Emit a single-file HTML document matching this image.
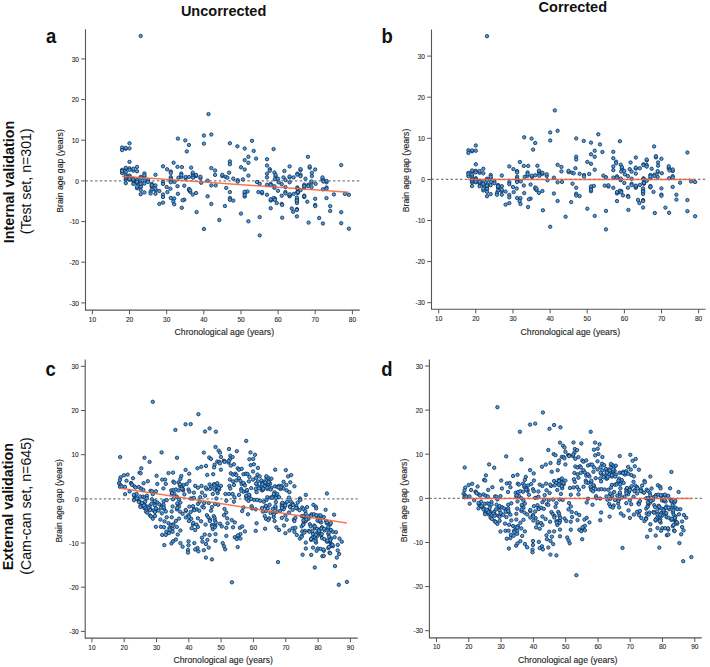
<!DOCTYPE html>
<html><head><meta charset="utf-8"><style>
html,body{margin:0;padding:0;background:#fff;}
svg{display:block;}
text{font-family:"Liberation Sans", sans-serif;fill:#2a2a2a;}
.ttl{font-size:14.5px;font-weight:bold;fill:#111;}
.lt{font-size:20.5px;font-weight:bold;fill:#111;}
.row{font-size:14.3px;font-weight:bold;fill:#111;}
.rowr{font-size:14.2px;fill:#111;}
.lab{font-size:8.7px;fill:#1e1e1e;stroke:#1e1e1e;stroke-width:0.12px;}
.tk{font-size:7.4px;fill:#2a2a2a;stroke:#2a2a2a;stroke-width:0.12px;}
</style></head><body>
<svg width="710" height="667" viewBox="0 0 710 667">
<text x="223.6" y="15.8" text-anchor="middle" class="ttl">Uncorrected</text>
<text x="572.8" y="12.2" text-anchor="middle" class="ttl">Corrected</text>
<text transform="translate(46.1,42.8) scale(0.9,1)" class="lt">a</text>
<text transform="translate(381.6,43) scale(0.9,1)" class="lt">b</text>
<text transform="translate(45.5,375.9) scale(0.9,1)" class="lt">c</text>
<text transform="translate(381.2,376) scale(0.9,1)" class="lt">d</text>
<text transform="translate(13.9,182) rotate(-90)" text-anchor="middle" class="row">Internal validation</text>
<text transform="translate(31.1,181.3) rotate(-90)" text-anchor="middle" class="rowr">(Test set, n=301)</text>
<text transform="translate(12.9,506.6) rotate(-90)" text-anchor="middle" class="row">External validation</text>
<text transform="translate(30.5,506) rotate(-90)" text-anchor="middle" class="rowr">(Cam-can set, n=645)</text>
<text transform="translate(62.5,171) rotate(-90)" text-anchor="middle" class="lab">Brain age gap (years)</text>
<text transform="translate(408.9,170.5) rotate(-90)" text-anchor="middle" class="lab">Brain age gap (years)</text>
<text transform="translate(62.1,500.8) rotate(-90)" text-anchor="middle" class="lab">Brain age gap (years)</text>
<text transform="translate(407.1,500.5) rotate(-90)" text-anchor="middle" class="lab">Brain age gap (years)</text>
<text x="224.3" y="335.4" text-anchor="middle" class="lab">Chronological age (years)</text>
<text x="570.3" y="335.4" text-anchor="middle" class="lab">Chronological age (years)</text>
<text x="223.2" y="663.3" text-anchor="middle" class="lab">Chronological age (years)</text>
<text x="567.7" y="663.1" text-anchor="middle" class="lab">Chronological age (years)</text>
<line x1="85.5" y1="180.9" x2="359.7" y2="180.9" stroke="#7a7a7a" stroke-width="1.3" stroke-dasharray="2.45,2.31"/>
<path d="M85.5 29.2V310.1H359.7" fill="none" stroke="#555" stroke-width="1.1"/>
<path d="M81.2 302.9H85.5M81.2 262.2H85.5M81.2 221.6H85.5M81.2 180.9H85.5M81.2 140.2H85.5M81.2 99.6H85.5M81.2 58.9H85.5M92.4 310.1V314.3M129.5 310.1V314.3M166.7 310.1V314.3M203.8 310.1V314.3M241 310.1V314.3M278.1 310.1V314.3M315.2 310.1V314.3M352.4 310.1V314.3" fill="none" stroke="#555" stroke-width="1"/>
<text transform="translate(79,305.6) scale(0.88,1)" text-anchor="end" class="tk">-30</text>
<text transform="translate(79,264.9) scale(0.88,1)" text-anchor="end" class="tk">-20</text>
<text transform="translate(79,224.3) scale(0.88,1)" text-anchor="end" class="tk">-10</text>
<text transform="translate(79,183.6) scale(0.88,1)" text-anchor="end" class="tk">0</text>
<text transform="translate(79,142.9) scale(0.88,1)" text-anchor="end" class="tk">10</text>
<text transform="translate(79,102.3) scale(0.88,1)" text-anchor="end" class="tk">20</text>
<text transform="translate(79,61.6) scale(0.88,1)" text-anchor="end" class="tk">30</text>
<text transform="translate(92.4,321.6) scale(0.88,1)" text-anchor="middle" class="tk">10</text>
<text transform="translate(129.5,321.6) scale(0.88,1)" text-anchor="middle" class="tk">20</text>
<text transform="translate(166.7,321.6) scale(0.88,1)" text-anchor="middle" class="tk">30</text>
<text transform="translate(203.8,321.6) scale(0.88,1)" text-anchor="middle" class="tk">40</text>
<text transform="translate(241,321.6) scale(0.88,1)" text-anchor="middle" class="tk">50</text>
<text transform="translate(278.1,321.6) scale(0.88,1)" text-anchor="middle" class="tk">60</text>
<text transform="translate(315.2,321.6) scale(0.88,1)" text-anchor="middle" class="tk">70</text>
<text transform="translate(352.4,321.6) scale(0.88,1)" text-anchor="middle" class="tk">80</text>
<line x1="431.5" y1="179.4" x2="705.6" y2="179.4" stroke="#7a7a7a" stroke-width="1.3" stroke-dasharray="2.45,2.31"/>
<path d="M431.5 29.6V309.2H705.6" fill="none" stroke="#555" stroke-width="1.1"/>
<path d="M427.2 302.7H431.5M427.2 261.6H431.5M427.2 220.5H431.5M427.2 179.4H431.5M427.2 138.3H431.5M427.2 97.2H431.5M427.2 56.1H431.5M438.7 309.2V313.4M475.8 309.2V313.4M513 309.2V313.4M550.1 309.2V313.4M587.2 309.2V313.4M624.4 309.2V313.4M661.5 309.2V313.4M698.6 309.2V313.4" fill="none" stroke="#555" stroke-width="1"/>
<text transform="translate(425,305.4) scale(0.88,1)" text-anchor="end" class="tk">-30</text>
<text transform="translate(425,264.3) scale(0.88,1)" text-anchor="end" class="tk">-20</text>
<text transform="translate(425,223.2) scale(0.88,1)" text-anchor="end" class="tk">-10</text>
<text transform="translate(425,182.1) scale(0.88,1)" text-anchor="end" class="tk">0</text>
<text transform="translate(425,141) scale(0.88,1)" text-anchor="end" class="tk">10</text>
<text transform="translate(425,99.9) scale(0.88,1)" text-anchor="end" class="tk">20</text>
<text transform="translate(425,58.8) scale(0.88,1)" text-anchor="end" class="tk">30</text>
<text transform="translate(438.7,320.7) scale(0.88,1)" text-anchor="middle" class="tk">10</text>
<text transform="translate(475.8,320.7) scale(0.88,1)" text-anchor="middle" class="tk">20</text>
<text transform="translate(513,320.7) scale(0.88,1)" text-anchor="middle" class="tk">30</text>
<text transform="translate(550.1,320.7) scale(0.88,1)" text-anchor="middle" class="tk">40</text>
<text transform="translate(587.2,320.7) scale(0.88,1)" text-anchor="middle" class="tk">50</text>
<text transform="translate(624.4,320.7) scale(0.88,1)" text-anchor="middle" class="tk">60</text>
<text transform="translate(661.5,320.7) scale(0.88,1)" text-anchor="middle" class="tk">70</text>
<text transform="translate(698.6,320.7) scale(0.88,1)" text-anchor="middle" class="tk">80</text>
<line x1="85.2" y1="498.9" x2="357.7" y2="498.9" stroke="#7a7a7a" stroke-width="1.3" stroke-dasharray="2.4,2.26"/>
<path d="M85.2 359.4V638.1H357.7" fill="none" stroke="#555" stroke-width="1.1"/>
<path d="M80.9 631.4H85.2M80.9 587.2H85.2M80.9 543H85.2M80.9 498.9H85.2M80.9 454.7H85.2M80.9 410.5H85.2M80.9 366.3H85.2M91.9 638.1V642.3M124.2 638.1V642.3M156.5 638.1V642.3M188.8 638.1V642.3M221.1 638.1V642.3M253.4 638.1V642.3M285.8 638.1V642.3M318.1 638.1V642.3M350.4 638.1V642.3" fill="none" stroke="#555" stroke-width="1"/>
<text transform="translate(78.7,634.1) scale(0.88,1)" text-anchor="end" class="tk">-30</text>
<text transform="translate(78.7,589.9) scale(0.88,1)" text-anchor="end" class="tk">-20</text>
<text transform="translate(78.7,545.7) scale(0.88,1)" text-anchor="end" class="tk">-10</text>
<text transform="translate(78.7,501.6) scale(0.88,1)" text-anchor="end" class="tk">0</text>
<text transform="translate(78.7,457.4) scale(0.88,1)" text-anchor="end" class="tk">10</text>
<text transform="translate(78.7,413.2) scale(0.88,1)" text-anchor="end" class="tk">20</text>
<text transform="translate(78.7,369) scale(0.88,1)" text-anchor="end" class="tk">30</text>
<text transform="translate(91.9,649.6) scale(0.88,1)" text-anchor="middle" class="tk">10</text>
<text transform="translate(124.2,649.6) scale(0.88,1)" text-anchor="middle" class="tk">20</text>
<text transform="translate(156.5,649.6) scale(0.88,1)" text-anchor="middle" class="tk">30</text>
<text transform="translate(188.8,649.6) scale(0.88,1)" text-anchor="middle" class="tk">40</text>
<text transform="translate(221.1,649.6) scale(0.88,1)" text-anchor="middle" class="tk">50</text>
<text transform="translate(253.4,649.6) scale(0.88,1)" text-anchor="middle" class="tk">60</text>
<text transform="translate(285.8,649.6) scale(0.88,1)" text-anchor="middle" class="tk">70</text>
<text transform="translate(318.1,649.6) scale(0.88,1)" text-anchor="middle" class="tk">80</text>
<text transform="translate(350.4,649.6) scale(0.88,1)" text-anchor="middle" class="tk">90</text>
<line x1="429.4" y1="498.4" x2="701.8" y2="498.4" stroke="#7a7a7a" stroke-width="1.3" stroke-dasharray="2.4,2.26"/>
<path d="M429.4 359.4V637.9H701.8" fill="none" stroke="#555" stroke-width="1.1"/>
<path d="M425.1 630.7H429.4M425.1 586.6H429.4M425.1 542.5H429.4M425.1 498.4H429.4M425.1 454.2H429.4M425.1 410.1H429.4M425.1 366H429.4M436.5 637.9V642.1M468.8 637.9V642.1M501.1 637.9V642.1M533.4 637.9V642.1M565.7 637.9V642.1M598 637.9V642.1M630.2 637.9V642.1M662.5 637.9V642.1M694.8 637.9V642.1" fill="none" stroke="#555" stroke-width="1"/>
<text transform="translate(422.9,633.4) scale(0.88,1)" text-anchor="end" class="tk">-30</text>
<text transform="translate(422.9,589.3) scale(0.88,1)" text-anchor="end" class="tk">-20</text>
<text transform="translate(422.9,545.2) scale(0.88,1)" text-anchor="end" class="tk">-10</text>
<text transform="translate(422.9,501.1) scale(0.88,1)" text-anchor="end" class="tk">0</text>
<text transform="translate(422.9,456.9) scale(0.88,1)" text-anchor="end" class="tk">10</text>
<text transform="translate(422.9,412.8) scale(0.88,1)" text-anchor="end" class="tk">20</text>
<text transform="translate(422.9,368.7) scale(0.88,1)" text-anchor="end" class="tk">30</text>
<text transform="translate(436.5,649.4) scale(0.88,1)" text-anchor="middle" class="tk">10</text>
<text transform="translate(468.8,649.4) scale(0.88,1)" text-anchor="middle" class="tk">20</text>
<text transform="translate(501.1,649.4) scale(0.88,1)" text-anchor="middle" class="tk">30</text>
<text transform="translate(533.4,649.4) scale(0.88,1)" text-anchor="middle" class="tk">40</text>
<text transform="translate(565.7,649.4) scale(0.88,1)" text-anchor="middle" class="tk">50</text>
<text transform="translate(598,649.4) scale(0.88,1)" text-anchor="middle" class="tk">60</text>
<text transform="translate(630.2,649.4) scale(0.88,1)" text-anchor="middle" class="tk">70</text>
<text transform="translate(662.5,649.4) scale(0.88,1)" text-anchor="middle" class="tk">80</text>
<text transform="translate(694.8,649.4) scale(0.88,1)" text-anchor="middle" class="tk">90</text>
<g fill="#46a0ea" stroke="#10284a" stroke-width="0.8"><circle cx="208.5" cy="114.1" r="1.7"/><circle cx="203.9" cy="135.5" r="1.7"/><circle cx="211.3" cy="134.5" r="1.7"/><circle cx="177.9" cy="138.6" r="1.7"/><circle cx="185.3" cy="140.4" r="1.7"/><circle cx="188.9" cy="145" r="1.7"/><circle cx="203.9" cy="143.6" r="1.7"/><circle cx="186.8" cy="151.4" r="1.7"/><circle cx="229.9" cy="143.3" r="1.7"/><circle cx="129.5" cy="143.3" r="1.7"/><circle cx="122.1" cy="147.5" r="1.7"/><circle cx="122.1" cy="150.1" r="1.7"/><circle cx="125.8" cy="148.7" r="1.7"/><circle cx="129.5" cy="148.4" r="1.7"/><circle cx="129.5" cy="161.9" r="1.7"/><circle cx="173.6" cy="162.7" r="1.7"/><circle cx="229.9" cy="161.4" r="1.7"/><circle cx="252" cy="140.8" r="1.7"/><circle cx="237.4" cy="146.3" r="1.7"/><circle cx="244.7" cy="148.5" r="1.7"/><circle cx="253.7" cy="150.9" r="1.7"/><circle cx="273.6" cy="149.1" r="1.7"/><circle cx="248.4" cy="156.8" r="1.7"/><circle cx="256.1" cy="158.6" r="1.7"/><circle cx="244.7" cy="160.1" r="1.7"/><circle cx="248.4" cy="162.8" r="1.7"/><circle cx="267" cy="159.2" r="1.7"/><circle cx="307.9" cy="156.8" r="1.7"/><circle cx="229.9" cy="164.2" r="1.7"/><circle cx="167.1" cy="169.3" r="1.7"/><circle cx="170.8" cy="171.5" r="1.7"/><circle cx="166.7" cy="187" r="1.7"/><circle cx="170.8" cy="177.2" r="1.7"/><circle cx="170.8" cy="181.1" r="1.7"/><circle cx="170.4" cy="188.7" r="1.7"/><circle cx="167.4" cy="192.1" r="1.7"/><circle cx="159.3" cy="203.9" r="1.7"/><circle cx="163" cy="202.6" r="1.7"/><circle cx="174.5" cy="182" r="1.7"/><circle cx="177.5" cy="166.8" r="1.7"/><circle cx="181.9" cy="167.1" r="1.7"/><circle cx="178.4" cy="177.7" r="1.7"/><circle cx="181.3" cy="173.5" r="1.7"/><circle cx="181.3" cy="176.9" r="1.7"/><circle cx="177.5" cy="186.2" r="1.7"/><circle cx="184.3" cy="185.7" r="1.7"/><circle cx="177.9" cy="193.8" r="1.7"/><circle cx="170.8" cy="198" r="1.7"/><circle cx="174.2" cy="198.5" r="1.7"/><circle cx="173.3" cy="201.4" r="1.7"/><circle cx="174.2" cy="204.3" r="1.7"/><circle cx="184.3" cy="199.7" r="1.7"/><circle cx="182.6" cy="200.2" r="1.7"/><circle cx="185.6" cy="178.3" r="1.7"/><circle cx="189" cy="176.9" r="1.7"/><circle cx="191.1" cy="167.6" r="1.7"/><circle cx="192.7" cy="173.9" r="1.7"/><circle cx="193.1" cy="176.1" r="1.7"/><circle cx="196.1" cy="176.1" r="1.7"/><circle cx="200.4" cy="178.3" r="1.7"/><circle cx="201.2" cy="182.8" r="1.7"/><circle cx="189" cy="190.1" r="1.7"/><circle cx="190.2" cy="191.8" r="1.7"/><circle cx="192.7" cy="194.6" r="1.7"/><circle cx="196.1" cy="193" r="1.7"/><circle cx="181.8" cy="207.8" r="1.7"/><circle cx="196.6" cy="212.1" r="1.7"/><circle cx="207.6" cy="180.6" r="1.7"/><circle cx="207.6" cy="196.3" r="1.7"/><circle cx="211.3" cy="168.1" r="1.7"/><circle cx="215.1" cy="170.5" r="1.7"/><circle cx="215.1" cy="174.9" r="1.7"/><circle cx="211.3" cy="185.4" r="1.7"/><circle cx="215.7" cy="185.4" r="1.7"/><circle cx="211.3" cy="203.9" r="1.7"/><circle cx="222.3" cy="176.1" r="1.7"/><circle cx="225.7" cy="176.9" r="1.7"/><circle cx="227.4" cy="177.7" r="1.7"/><circle cx="229.1" cy="172.7" r="1.7"/><circle cx="233.3" cy="178.6" r="1.7"/><circle cx="226.2" cy="187.9" r="1.7"/><circle cx="229.9" cy="192.1" r="1.7"/><circle cx="229.9" cy="198" r="1.7"/><circle cx="233.3" cy="200.6" r="1.7"/><circle cx="224.9" cy="206" r="1.7"/><circle cx="219.3" cy="220" r="1.7"/><circle cx="203.9" cy="229" r="1.7"/><circle cx="137" cy="166.9" r="1.7"/><circle cx="122.1" cy="169.9" r="1.7"/><circle cx="122.1" cy="173" r="1.7"/><circle cx="125.8" cy="168.8" r="1.7"/><circle cx="125.8" cy="172" r="1.7"/><circle cx="125.8" cy="174.8" r="1.7"/><circle cx="129.5" cy="168.3" r="1.7"/><circle cx="133.3" cy="170.6" r="1.7"/><circle cx="137" cy="171.3" r="1.7"/><circle cx="129.5" cy="175.6" r="1.7"/><circle cx="125.8" cy="179.7" r="1.7"/><circle cx="125.8" cy="183.2" r="1.7"/><circle cx="129.5" cy="179.7" r="1.7"/><circle cx="133.3" cy="178.7" r="1.7"/><circle cx="133.3" cy="181.1" r="1.7"/><circle cx="133.3" cy="183.9" r="1.7"/><circle cx="137" cy="180.1" r="1.7"/><circle cx="137" cy="183.2" r="1.7"/><circle cx="137" cy="188.2" r="1.7"/><circle cx="140.7" cy="176.9" r="1.7"/><circle cx="140.7" cy="182.5" r="1.7"/><circle cx="140.7" cy="185" r="1.7"/><circle cx="140.7" cy="187.1" r="1.7"/><circle cx="140.7" cy="189.9" r="1.7"/><circle cx="140.7" cy="194.2" r="1.7"/><circle cx="144.4" cy="173.4" r="1.7"/><circle cx="144.4" cy="176.5" r="1.7"/><circle cx="144.4" cy="180.4" r="1.7"/><circle cx="144.4" cy="183.6" r="1.7"/><circle cx="144.4" cy="192.4" r="1.7"/><circle cx="148.1" cy="180.1" r="1.7"/><circle cx="155.5" cy="174.8" r="1.7"/><circle cx="151.8" cy="183.9" r="1.7"/><circle cx="151.8" cy="186.8" r="1.7"/><circle cx="155.5" cy="185.4" r="1.7"/><circle cx="151.8" cy="189.6" r="1.7"/><circle cx="150.6" cy="191.7" r="1.7"/><circle cx="155.5" cy="190.3" r="1.7"/><circle cx="155.5" cy="193.8" r="1.7"/><circle cx="159.3" cy="191" r="1.7"/><circle cx="163" cy="166.3" r="1.7"/><circle cx="163" cy="181.8" r="1.7"/><circle cx="163" cy="183.9" r="1.7"/><circle cx="163" cy="194.5" r="1.7"/><circle cx="163" cy="197" r="1.7"/><circle cx="241" cy="167.3" r="1.7"/><circle cx="244.7" cy="169.5" r="1.7"/><circle cx="248.4" cy="175.6" r="1.7"/><circle cx="237.7" cy="180.1" r="1.7"/><circle cx="242.9" cy="179.4" r="1.7"/><circle cx="267" cy="165.5" r="1.7"/><circle cx="269.8" cy="169.2" r="1.7"/><circle cx="267" cy="173.7" r="1.7"/><circle cx="267" cy="177.4" r="1.7"/><circle cx="274.4" cy="172.5" r="1.7"/><circle cx="275.6" cy="176.5" r="1.7"/><circle cx="274.9" cy="179.2" r="1.7"/><circle cx="278" cy="178.7" r="1.7"/><circle cx="278.6" cy="182.3" r="1.7"/><circle cx="281.7" cy="184.2" r="1.7"/><circle cx="284.4" cy="171" r="1.7"/><circle cx="283.5" cy="177.4" r="1.7"/><circle cx="285.4" cy="180.1" r="1.7"/><circle cx="289.6" cy="166.4" r="1.7"/><circle cx="289.6" cy="177.4" r="1.7"/><circle cx="289.6" cy="182.3" r="1.7"/><circle cx="293.6" cy="177.4" r="1.7"/><circle cx="297.3" cy="173.7" r="1.7"/><circle cx="300.5" cy="170.1" r="1.7"/><circle cx="300.5" cy="174.6" r="1.7"/><circle cx="305.5" cy="178.7" r="1.7"/><circle cx="309.7" cy="167.7" r="1.7"/><circle cx="311.9" cy="172.8" r="1.7"/><circle cx="311.9" cy="176.1" r="1.7"/><circle cx="315.2" cy="169.5" r="1.7"/><circle cx="322.5" cy="179.2" r="1.7"/><circle cx="323.3" cy="180.1" r="1.7"/><circle cx="326.5" cy="182.3" r="1.7"/><circle cx="326.5" cy="187.5" r="1.7"/><circle cx="322.9" cy="189.3" r="1.7"/><circle cx="315.6" cy="183.8" r="1.7"/><circle cx="311.5" cy="182.9" r="1.7"/><circle cx="311.5" cy="187.1" r="1.7"/><circle cx="308.2" cy="184.7" r="1.7"/><circle cx="304.2" cy="184.7" r="1.7"/><circle cx="304.2" cy="187.8" r="1.7"/><circle cx="297.3" cy="187.5" r="1.7"/><circle cx="297.3" cy="192" r="1.7"/><circle cx="297.8" cy="193" r="1.7"/><circle cx="300.5" cy="190.2" r="1.7"/><circle cx="293.6" cy="193.9" r="1.7"/><circle cx="289.6" cy="195.2" r="1.7"/><circle cx="289.6" cy="196.3" r="1.7"/><circle cx="285.4" cy="187.1" r="1.7"/><circle cx="285.4" cy="192" r="1.7"/><circle cx="281.7" cy="195.7" r="1.7"/><circle cx="278" cy="190.8" r="1.7"/><circle cx="274.4" cy="187.8" r="1.7"/><circle cx="270.7" cy="183.8" r="1.7"/><circle cx="267" cy="184.7" r="1.7"/><circle cx="259.7" cy="183.8" r="1.7"/><circle cx="257" cy="182" r="1.7"/><circle cx="247.5" cy="191.5" r="1.7"/><circle cx="244.7" cy="193.3" r="1.7"/><circle cx="244.7" cy="196.6" r="1.7"/><circle cx="258.4" cy="192" r="1.7"/><circle cx="262.1" cy="193.3" r="1.7"/><circle cx="267" cy="194.8" r="1.7"/><circle cx="270.7" cy="200.6" r="1.7"/><circle cx="273.5" cy="199.4" r="1.7"/><circle cx="274.9" cy="198.5" r="1.7"/><circle cx="276.7" cy="203" r="1.7"/><circle cx="281.7" cy="203.9" r="1.7"/><circle cx="282.2" cy="204.9" r="1.7"/><circle cx="270.7" cy="208.2" r="1.7"/><circle cx="291.8" cy="208.5" r="1.7"/><circle cx="293.2" cy="211.8" r="1.7"/><circle cx="296.9" cy="209.1" r="1.7"/><circle cx="296.9" cy="199.4" r="1.7"/><circle cx="296.9" cy="201.2" r="1.7"/><circle cx="296.9" cy="197.5" r="1.7"/><circle cx="304.2" cy="195.7" r="1.7"/><circle cx="304.2" cy="197" r="1.7"/><circle cx="307.3" cy="201.7" r="1.7"/><circle cx="315.2" cy="198.8" r="1.7"/><circle cx="315.2" cy="204.9" r="1.7"/><circle cx="315.2" cy="206.1" r="1.7"/><circle cx="326.5" cy="198.1" r="1.7"/><circle cx="330.2" cy="206.1" r="1.7"/><circle cx="330.2" cy="210.9" r="1.7"/><circle cx="333.9" cy="194.4" r="1.7"/><circle cx="344.9" cy="193.9" r="1.7"/><circle cx="348.9" cy="194.8" r="1.7"/><circle cx="341.2" cy="165.1" r="1.7"/><circle cx="341.2" cy="212.2" r="1.7"/><circle cx="341.2" cy="223.2" r="1.7"/><circle cx="348.9" cy="228.7" r="1.7"/><circle cx="319.2" cy="218" r="1.7"/><circle cx="322.9" cy="223.5" r="1.7"/><circle cx="308.6" cy="222.6" r="1.7"/><circle cx="296.9" cy="216.4" r="1.7"/><circle cx="282.2" cy="217.7" r="1.7"/><circle cx="259.7" cy="217.1" r="1.7"/><circle cx="248.4" cy="221.3" r="1.7"/><circle cx="241" cy="213.6" r="1.7"/><circle cx="259.7" cy="235.4" r="1.7"/><circle cx="140.7" cy="35.9" r="1.7"/><circle cx="270.7" cy="185" r="1.7"/><circle cx="244.7" cy="195" r="1.7"/><circle cx="237.7" cy="181.6" r="1.7"/><circle cx="296.9" cy="203" r="1.7"/><circle cx="300.5" cy="169.1" r="1.7"/><circle cx="185.6" cy="177" r="1.7"/><circle cx="296.9" cy="200.5" r="1.7"/><circle cx="304.2" cy="186.1" r="1.7"/><circle cx="155.5" cy="188.8" r="1.7"/><circle cx="151.8" cy="185.5" r="1.7"/><circle cx="170.8" cy="182.3" r="1.7"/><circle cx="285.4" cy="193.4" r="1.7"/><circle cx="133.3" cy="168.8" r="1.7"/><circle cx="189" cy="189" r="1.7"/><circle cx="326.5" cy="180.9" r="1.7"/><circle cx="170.8" cy="172.9" r="1.7"/><circle cx="137" cy="181.8" r="1.7"/><circle cx="229.9" cy="199.8" r="1.7"/><circle cx="296.9" cy="210" r="1.7"/><circle cx="308.2" cy="186" r="1.7"/><circle cx="297.8" cy="192.1" r="1.7"/><circle cx="326.5" cy="188.8" r="1.7"/><circle cx="289.6" cy="176.4" r="1.7"/><circle cx="297.3" cy="188.4" r="1.7"/><circle cx="125.8" cy="178.1" r="1.7"/><circle cx="200.4" cy="176.8" r="1.7"/><circle cx="140.7" cy="186.7" r="1.7"/><circle cx="273.5" cy="198.1" r="1.7"/><circle cx="323.3" cy="181.5" r="1.7"/><circle cx="274.4" cy="186.2" r="1.7"/><circle cx="289.6" cy="195.3" r="1.7"/><circle cx="322.5" cy="177.4" r="1.7"/><circle cx="122.1" cy="171" r="1.7"/><circle cx="274.9" cy="199.7" r="1.7"/><circle cx="150.6" cy="193.5" r="1.7"/><circle cx="289.6" cy="194.3" r="1.7"/><circle cx="129.5" cy="176.6" r="1.7"/><circle cx="222.3" cy="174.8" r="1.7"/><circle cx="137" cy="186.6" r="1.7"/><circle cx="129.5" cy="169.9" r="1.7"/><circle cx="125.8" cy="176.5" r="1.7"/><circle cx="297.3" cy="174.6" r="1.7"/><circle cx="140.7" cy="183.8" r="1.7"/><circle cx="311.5" cy="181.4" r="1.7"/><circle cx="304.2" cy="196.2" r="1.7"/><circle cx="133.3" cy="180.3" r="1.7"/><circle cx="269.8" cy="170.7" r="1.7"/><circle cx="129.5" cy="178.9" r="1.7"/><circle cx="262.1" cy="192" r="1.7"/><circle cx="148.1" cy="181.9" r="1.7"/><circle cx="125.8" cy="147.9" r="1.7"/><circle cx="190.2" cy="190.2" r="1.7"/><circle cx="193.1" cy="177.7" r="1.7"/><circle cx="181.3" cy="175.2" r="1.7"/><circle cx="300.5" cy="176.2" r="1.7"/><circle cx="192.7" cy="172.6" r="1.7"/><circle cx="133.3" cy="179.4" r="1.7"/><circle cx="275.6" cy="174.9" r="1.7"/><circle cx="270.7" cy="199.3" r="1.7"/><circle cx="144.4" cy="175.4" r="1.7"/><circle cx="140.7" cy="178.5" r="1.7"/><circle cx="125.8" cy="167.8" r="1.7"/><circle cx="309.7" cy="166.4" r="1.7"/><circle cx="196.1" cy="174.9" r="1.7"/><circle cx="244.7" cy="191.8" r="1.7"/><circle cx="151.8" cy="185.2" r="1.7"/><circle cx="170.8" cy="178.9" r="1.7"/></g>
<g fill="#46a0ea" stroke="#10284a" stroke-width="0.8"><circle cx="152.8" cy="401.8" r="1.7"/><circle cx="120.1" cy="457.1" r="1.7"/><circle cx="144.5" cy="457.8" r="1.7"/><circle cx="149.6" cy="461.9" r="1.7"/><circle cx="161.6" cy="452.4" r="1.7"/><circle cx="141.3" cy="468.3" r="1.7"/><circle cx="139.5" cy="472.6" r="1.7"/><circle cx="140.6" cy="473.3" r="1.7"/><circle cx="156.6" cy="475.8" r="1.7"/><circle cx="168.5" cy="473.1" r="1.7"/><circle cx="173" cy="472.6" r="1.7"/><circle cx="124" cy="475.3" r="1.7"/><circle cx="127.6" cy="474.6" r="1.7"/><circle cx="120.6" cy="477.3" r="1.7"/><circle cx="119.9" cy="480" r="1.7"/><circle cx="119" cy="483.2" r="1.7"/><circle cx="120.4" cy="485" r="1.7"/><circle cx="119.9" cy="486.8" r="1.7"/><circle cx="121.7" cy="486.3" r="1.7"/><circle cx="124.9" cy="486.8" r="1.7"/><circle cx="126.5" cy="480.7" r="1.7"/><circle cx="133" cy="478.2" r="1.7"/><circle cx="131" cy="483" r="1.7"/><circle cx="131.4" cy="483.6" r="1.7"/><circle cx="134.3" cy="486.3" r="1.7"/><circle cx="135.5" cy="487.5" r="1.7"/><circle cx="138.8" cy="487" r="1.7"/><circle cx="141.1" cy="488.6" r="1.7"/><circle cx="143.3" cy="489.9" r="1.7"/><circle cx="143.6" cy="483.2" r="1.7"/><circle cx="147.8" cy="481.2" r="1.7"/><circle cx="157.3" cy="483.9" r="1.7"/><circle cx="162.2" cy="479.6" r="1.7"/><circle cx="165.1" cy="479.6" r="1.7"/><circle cx="165.8" cy="483.9" r="1.7"/><circle cx="163.4" cy="488.4" r="1.7"/><circle cx="173.3" cy="481.6" r="1.7"/><circle cx="174.4" cy="482.7" r="1.7"/><circle cx="129.6" cy="491.5" r="1.7"/><circle cx="150.5" cy="490.8" r="1.7"/><circle cx="151.9" cy="491.3" r="1.7"/><circle cx="155.9" cy="491.3" r="1.7"/><circle cx="171.2" cy="490.4" r="1.7"/><circle cx="173.5" cy="489.9" r="1.7"/><circle cx="125.1" cy="494.2" r="1.7"/><circle cx="152.8" cy="494.2" r="1.7"/><circle cx="171.7" cy="494" r="1.7"/><circle cx="174.4" cy="494" r="1.7"/><circle cx="136.6" cy="493.9" r="1.7"/><circle cx="134.3" cy="496.2" r="1.7"/><circle cx="135.7" cy="498" r="1.7"/><circle cx="133.9" cy="500.2" r="1.7"/><circle cx="137.5" cy="499.3" r="1.7"/><circle cx="139.3" cy="501.1" r="1.7"/><circle cx="140.2" cy="496.6" r="1.7"/><circle cx="142.9" cy="496.6" r="1.7"/><circle cx="144.7" cy="497.5" r="1.7"/><circle cx="146.9" cy="495.7" r="1.7"/><circle cx="146.9" cy="498.4" r="1.7"/><circle cx="142" cy="504.3" r="1.7"/><circle cx="140.6" cy="505.6" r="1.7"/><circle cx="143.8" cy="503.8" r="1.7"/><circle cx="145.1" cy="501.6" r="1.7"/><circle cx="145.6" cy="505.6" r="1.7"/><circle cx="144.2" cy="507.9" r="1.7"/><circle cx="146.5" cy="508.8" r="1.7"/><circle cx="146" cy="511.5" r="1.7"/><circle cx="147.4" cy="512.8" r="1.7"/><circle cx="149.6" cy="506.1" r="1.7"/><circle cx="150.5" cy="509.2" r="1.7"/><circle cx="151.4" cy="503.8" r="1.7"/><circle cx="151.9" cy="499.3" r="1.7"/><circle cx="154.6" cy="502" r="1.7"/><circle cx="155" cy="505.6" r="1.7"/><circle cx="157.3" cy="502.5" r="1.7"/><circle cx="153.7" cy="510.6" r="1.7"/><circle cx="155" cy="511.9" r="1.7"/><circle cx="156.4" cy="509.2" r="1.7"/><circle cx="158.6" cy="510.6" r="1.7"/><circle cx="159.5" cy="504.3" r="1.7"/><circle cx="161.8" cy="506.1" r="1.7"/><circle cx="163.6" cy="501.1" r="1.7"/><circle cx="163.6" cy="504.7" r="1.7"/><circle cx="164" cy="508.8" r="1.7"/><circle cx="165.8" cy="511.5" r="1.7"/><circle cx="161.8" cy="513.3" r="1.7"/><circle cx="166.7" cy="500.2" r="1.7"/><circle cx="150.1" cy="515.5" r="1.7"/><circle cx="151" cy="516.4" r="1.7"/><circle cx="152.8" cy="518.7" r="1.7"/><circle cx="155" cy="516" r="1.7"/><circle cx="160.4" cy="519.6" r="1.7"/><circle cx="164.5" cy="521.4" r="1.7"/><circle cx="166.7" cy="517.3" r="1.7"/><circle cx="171.7" cy="517.3" r="1.7"/><circle cx="171.7" cy="511.5" r="1.7"/><circle cx="172.6" cy="506.5" r="1.7"/><circle cx="173" cy="499.3" r="1.7"/><circle cx="168.5" cy="523.2" r="1.7"/><circle cx="170.8" cy="525" r="1.7"/><circle cx="173.5" cy="524.1" r="1.7"/><circle cx="155.9" cy="526.8" r="1.7"/><circle cx="160.9" cy="526.8" r="1.7"/><circle cx="164" cy="527.2" r="1.7"/><circle cx="169.4" cy="528.1" r="1.7"/><circle cx="172.6" cy="528.6" r="1.7"/><circle cx="166.3" cy="531.7" r="1.7"/><circle cx="162.2" cy="534.9" r="1.7"/><circle cx="165.8" cy="534.9" r="1.7"/><circle cx="169" cy="533.1" r="1.7"/><circle cx="172.6" cy="531.7" r="1.7"/><circle cx="164.3" cy="545.1" r="1.7"/><circle cx="171.5" cy="543.4" r="1.7"/><circle cx="173" cy="541.3" r="1.7"/><circle cx="198.4" cy="414.2" r="1.7"/><circle cx="185.6" cy="424.3" r="1.7"/><circle cx="190.7" cy="424.1" r="1.7"/><circle cx="175.4" cy="429.9" r="1.7"/><circle cx="205" cy="431.5" r="1.7"/><circle cx="209.6" cy="428.4" r="1.7"/><circle cx="215.9" cy="431.7" r="1.7"/><circle cx="177" cy="457.8" r="1.7"/><circle cx="203.8" cy="452.6" r="1.7"/><circle cx="215.5" cy="447" r="1.7"/><circle cx="218.6" cy="450.6" r="1.7"/><circle cx="220" cy="452.6" r="1.7"/><circle cx="220.9" cy="456.9" r="1.7"/><circle cx="209.2" cy="457.5" r="1.7"/><circle cx="211" cy="458.9" r="1.7"/><circle cx="217.3" cy="461.6" r="1.7"/><circle cx="219.1" cy="461.8" r="1.7"/><circle cx="223.6" cy="460.7" r="1.7"/><circle cx="224.5" cy="461.1" r="1.7"/><circle cx="229" cy="449" r="1.7"/><circle cx="230.3" cy="455.7" r="1.7"/><circle cx="232.6" cy="457.1" r="1.7"/><circle cx="229.9" cy="459.3" r="1.7"/><circle cx="228.5" cy="462.5" r="1.7"/><circle cx="230.8" cy="465.6" r="1.7"/><circle cx="233.9" cy="464.3" r="1.7"/><circle cx="214.6" cy="464.7" r="1.7"/><circle cx="214.1" cy="467.4" r="1.7"/><circle cx="206" cy="465.9" r="1.7"/><circle cx="201.3" cy="466.8" r="1.7"/><circle cx="197.5" cy="468.3" r="1.7"/><circle cx="220.9" cy="469.7" r="1.7"/><circle cx="185.6" cy="469.9" r="1.7"/><circle cx="189.2" cy="473.7" r="1.7"/><circle cx="207.2" cy="474.9" r="1.7"/><circle cx="213.2" cy="474.2" r="1.7"/><circle cx="230.8" cy="473.3" r="1.7"/><circle cx="233" cy="474.6" r="1.7"/><circle cx="181.3" cy="476" r="1.7"/><circle cx="180.4" cy="478.9" r="1.7"/><circle cx="189.4" cy="480.9" r="1.7"/><circle cx="186.7" cy="484.1" r="1.7"/><circle cx="183.5" cy="485" r="1.7"/><circle cx="178.6" cy="482.3" r="1.7"/><circle cx="179.9" cy="485.9" r="1.7"/><circle cx="181.7" cy="487.2" r="1.7"/><circle cx="175.9" cy="489.5" r="1.7"/><circle cx="178.6" cy="490.4" r="1.7"/><circle cx="183.1" cy="490.4" r="1.7"/><circle cx="188.5" cy="489.5" r="1.7"/><circle cx="189.4" cy="491.7" r="1.7"/><circle cx="184.4" cy="494.4" r="1.7"/><circle cx="195.2" cy="485.9" r="1.7"/><circle cx="197.9" cy="487.7" r="1.7"/><circle cx="201.5" cy="485.9" r="1.7"/><circle cx="206.5" cy="489" r="1.7"/><circle cx="209.6" cy="484.5" r="1.7"/><circle cx="211.4" cy="486.8" r="1.7"/><circle cx="210.1" cy="489" r="1.7"/><circle cx="214.1" cy="484.1" r="1.7"/><circle cx="216.8" cy="484.1" r="1.7"/><circle cx="217.3" cy="486.8" r="1.7"/><circle cx="220.9" cy="485.9" r="1.7"/><circle cx="214.6" cy="489.5" r="1.7"/><circle cx="217.3" cy="489.9" r="1.7"/><circle cx="219.1" cy="489.5" r="1.7"/><circle cx="212.8" cy="494" r="1.7"/><circle cx="217.7" cy="493.1" r="1.7"/><circle cx="229.9" cy="479.6" r="1.7"/><circle cx="233" cy="481.4" r="1.7"/><circle cx="229.4" cy="485.9" r="1.7"/><circle cx="230.3" cy="488.6" r="1.7"/><circle cx="233.9" cy="485" r="1.7"/><circle cx="225.4" cy="494" r="1.7"/><circle cx="229" cy="494" r="1.7"/><circle cx="232.6" cy="494" r="1.7"/><circle cx="193.9" cy="492.6" r="1.7"/><circle cx="202" cy="492.6" r="1.7"/><circle cx="205.1" cy="495.8" r="1.7"/><circle cx="200.2" cy="497.2" r="1.7"/><circle cx="234.4" cy="497.2" r="1.7"/><circle cx="190.7" cy="498.5" r="1.7"/><circle cx="193" cy="498.5" r="1.7"/><circle cx="193.9" cy="497.9" r="1.7"/><circle cx="179" cy="499.4" r="1.7"/><circle cx="176.8" cy="496.7" r="1.7"/><circle cx="180.4" cy="502.6" r="1.7"/><circle cx="177.7" cy="504.4" r="1.7"/><circle cx="179" cy="506.6" r="1.7"/><circle cx="176.8" cy="509.3" r="1.7"/><circle cx="179.9" cy="511.6" r="1.7"/><circle cx="182.6" cy="513.8" r="1.7"/><circle cx="185.8" cy="511.1" r="1.7"/><circle cx="189.4" cy="506.6" r="1.7"/><circle cx="193" cy="506.2" r="1.7"/><circle cx="190.7" cy="512" r="1.7"/><circle cx="193.9" cy="509.3" r="1.7"/><circle cx="196.6" cy="509.3" r="1.7"/><circle cx="199.3" cy="510.7" r="1.7"/><circle cx="188.5" cy="515.2" r="1.7"/><circle cx="185.8" cy="517.4" r="1.7"/><circle cx="179" cy="518.6" r="1.7"/><circle cx="175.9" cy="521" r="1.7"/><circle cx="191.2" cy="518.8" r="1.7"/><circle cx="188.9" cy="521" r="1.7"/><circle cx="197.9" cy="518.3" r="1.7"/><circle cx="201.1" cy="521.3" r="1.7"/><circle cx="197.9" cy="503.9" r="1.7"/><circle cx="199.7" cy="501.7" r="1.7"/><circle cx="204.2" cy="503" r="1.7"/><circle cx="208.7" cy="503" r="1.7"/><circle cx="202.4" cy="506.6" r="1.7"/><circle cx="203.8" cy="507.5" r="1.7"/><circle cx="211.9" cy="507.1" r="1.7"/><circle cx="211" cy="510.7" r="1.7"/><circle cx="215" cy="503.9" r="1.7"/><circle cx="218.2" cy="504.8" r="1.7"/><circle cx="216.4" cy="498.5" r="1.7"/><circle cx="226.3" cy="500.8" r="1.7"/><circle cx="233.9" cy="501.7" r="1.7"/><circle cx="224.5" cy="508.9" r="1.7"/><circle cx="226.3" cy="512.5" r="1.7"/><circle cx="224" cy="515.2" r="1.7"/><circle cx="227.2" cy="518.3" r="1.7"/><circle cx="231.7" cy="520.1" r="1.7"/><circle cx="234.8" cy="522.4" r="1.7"/><circle cx="206.9" cy="515.2" r="1.7"/><circle cx="208.3" cy="517.4" r="1.7"/><circle cx="210.1" cy="519.7" r="1.7"/><circle cx="213.7" cy="516.1" r="1.7"/><circle cx="214.6" cy="517.9" r="1.7"/><circle cx="215" cy="520.6" r="1.7"/><circle cx="205.6" cy="524.6" r="1.7"/><circle cx="211.9" cy="525.1" r="1.7"/><circle cx="213.7" cy="525.5" r="1.7"/><circle cx="215.5" cy="525.5" r="1.7"/><circle cx="212.8" cy="529.1" r="1.7"/><circle cx="220" cy="523.7" r="1.7"/><circle cx="221.8" cy="526.4" r="1.7"/><circle cx="226.3" cy="527.8" r="1.7"/><circle cx="227.6" cy="523.3" r="1.7"/><circle cx="233" cy="527.3" r="1.7"/><circle cx="193" cy="524.6" r="1.7"/><circle cx="196.6" cy="524.6" r="1.7"/><circle cx="191.6" cy="528.2" r="1.7"/><circle cx="195.2" cy="530" r="1.7"/><circle cx="197.9" cy="526.9" r="1.7"/><circle cx="176.8" cy="526.9" r="1.7"/><circle cx="180.4" cy="530.5" r="1.7"/><circle cx="177.7" cy="534.5" r="1.7"/><circle cx="175.9" cy="539.5" r="1.7"/><circle cx="180.4" cy="543.1" r="1.7"/><circle cx="182.6" cy="546.7" r="1.7"/><circle cx="188.5" cy="541.3" r="1.7"/><circle cx="188.5" cy="545.3" r="1.7"/><circle cx="194.3" cy="543.1" r="1.7"/><circle cx="197.5" cy="548" r="1.7"/><circle cx="202" cy="537.7" r="1.7"/><circle cx="204.7" cy="534.5" r="1.7"/><circle cx="209.6" cy="535" r="1.7"/><circle cx="207.4" cy="539.9" r="1.7"/><circle cx="202.4" cy="541.7" r="1.7"/><circle cx="206" cy="544" r="1.7"/><circle cx="208.7" cy="547.6" r="1.7"/><circle cx="215.5" cy="534.1" r="1.7"/><circle cx="215.5" cy="540.8" r="1.7"/><circle cx="226.3" cy="535.9" r="1.7"/><circle cx="222.7" cy="543.1" r="1.7"/><circle cx="224" cy="546.2" r="1.7"/><circle cx="234.8" cy="537.2" r="1.7"/><circle cx="188" cy="549.9" r="1.7"/><circle cx="188" cy="552.6" r="1.7"/><circle cx="195.2" cy="549.5" r="1.7"/><circle cx="198.4" cy="551.3" r="1.7"/><circle cx="203.8" cy="550.2" r="1.7"/><circle cx="225.2" cy="549.3" r="1.7"/><circle cx="205.9" cy="557.6" r="1.7"/><circle cx="211.9" cy="559.4" r="1.7"/><circle cx="231.9" cy="582.3" r="1.7"/><circle cx="246.2" cy="440.9" r="1.7"/><circle cx="236.8" cy="451.2" r="1.7"/><circle cx="250.5" cy="452.4" r="1.7"/><circle cx="255" cy="454.8" r="1.7"/><circle cx="249.4" cy="459.3" r="1.7"/><circle cx="253.2" cy="458.9" r="1.7"/><circle cx="250.7" cy="465.2" r="1.7"/><circle cx="253.9" cy="464.3" r="1.7"/><circle cx="257.9" cy="467.9" r="1.7"/><circle cx="237.7" cy="468.3" r="1.7"/><circle cx="239" cy="469.7" r="1.7"/><circle cx="241.7" cy="468.8" r="1.7"/><circle cx="235.4" cy="473.7" r="1.7"/><circle cx="236.3" cy="475.1" r="1.7"/><circle cx="243.5" cy="474.2" r="1.7"/><circle cx="245.8" cy="473.7" r="1.7"/><circle cx="247.6" cy="474" r="1.7"/><circle cx="253" cy="471.5" r="1.7"/><circle cx="249.4" cy="476.9" r="1.7"/><circle cx="239" cy="478.2" r="1.7"/><circle cx="236.3" cy="480.5" r="1.7"/><circle cx="240.4" cy="480.9" r="1.7"/><circle cx="241.7" cy="484.1" r="1.7"/><circle cx="244" cy="484.1" r="1.7"/><circle cx="244.9" cy="485.4" r="1.7"/><circle cx="248.9" cy="481.4" r="1.7"/><circle cx="253" cy="479.6" r="1.7"/><circle cx="256.1" cy="477.8" r="1.7"/><circle cx="257.5" cy="474.6" r="1.7"/><circle cx="259.7" cy="476.4" r="1.7"/><circle cx="257.9" cy="481.4" r="1.7"/><circle cx="261.5" cy="480.5" r="1.7"/><circle cx="264.7" cy="481.4" r="1.7"/><circle cx="266.5" cy="477.8" r="1.7"/><circle cx="268.3" cy="477.8" r="1.7"/><circle cx="271.4" cy="478.7" r="1.7"/><circle cx="269.2" cy="480.5" r="1.7"/><circle cx="265.6" cy="484.1" r="1.7"/><circle cx="262" cy="483.2" r="1.7"/><circle cx="256.6" cy="484.5" r="1.7"/><circle cx="259.3" cy="486.8" r="1.7"/><circle cx="262" cy="486.8" r="1.7"/><circle cx="264.7" cy="486.3" r="1.7"/><circle cx="268.3" cy="485" r="1.7"/><circle cx="270.1" cy="483.6" r="1.7"/><circle cx="271.4" cy="487.7" r="1.7"/><circle cx="267.4" cy="489" r="1.7"/><circle cx="275" cy="486.3" r="1.7"/><circle cx="277.3" cy="486.8" r="1.7"/><circle cx="279.1" cy="485.9" r="1.7"/><circle cx="281.8" cy="485.9" r="1.7"/><circle cx="280.4" cy="489" r="1.7"/><circle cx="283.6" cy="488.6" r="1.7"/><circle cx="286.3" cy="485" r="1.7"/><circle cx="283.6" cy="481.8" r="1.7"/><circle cx="290.3" cy="482.3" r="1.7"/><circle cx="286.7" cy="490.4" r="1.7"/><circle cx="289.4" cy="492.2" r="1.7"/><circle cx="275.2" cy="469.7" r="1.7"/><circle cx="285.8" cy="470.1" r="1.7"/><circle cx="288.1" cy="476.4" r="1.7"/><circle cx="291.2" cy="475.1" r="1.7"/><circle cx="294.4" cy="486.3" r="1.7"/><circle cx="251.2" cy="488.1" r="1.7"/><circle cx="255.7" cy="489" r="1.7"/><circle cx="256.6" cy="492.2" r="1.7"/><circle cx="262" cy="490.4" r="1.7"/><circle cx="262.9" cy="489.9" r="1.7"/><circle cx="241.3" cy="489" r="1.7"/><circle cx="243.5" cy="491.7" r="1.7"/><circle cx="246.7" cy="491.3" r="1.7"/><circle cx="239" cy="494.9" r="1.7"/><circle cx="274.6" cy="492.2" r="1.7"/><circle cx="277.3" cy="494" r="1.7"/><circle cx="246.2" cy="496.7" r="1.7"/><circle cx="249.4" cy="495.8" r="1.7"/><circle cx="246.7" cy="499" r="1.7"/><circle cx="248.5" cy="500.8" r="1.7"/><circle cx="251.2" cy="499" r="1.7"/><circle cx="254.3" cy="499.9" r="1.7"/><circle cx="257" cy="499.9" r="1.7"/><circle cx="260.2" cy="500.8" r="1.7"/><circle cx="263.8" cy="501.7" r="1.7"/><circle cx="266.5" cy="499.9" r="1.7"/><circle cx="267.4" cy="497.2" r="1.7"/><circle cx="270.5" cy="497.6" r="1.7"/><circle cx="272.8" cy="496.7" r="1.7"/><circle cx="276.4" cy="496.7" r="1.7"/><circle cx="279.1" cy="497.2" r="1.7"/><circle cx="289" cy="497.6" r="1.7"/><circle cx="275.9" cy="502.1" r="1.7"/><circle cx="269.6" cy="504.8" r="1.7"/><circle cx="281.8" cy="503.9" r="1.7"/><circle cx="285.4" cy="503.5" r="1.7"/><circle cx="287.2" cy="501.7" r="1.7"/><circle cx="290.8" cy="501.7" r="1.7"/><circle cx="292.6" cy="503.5" r="1.7"/><circle cx="289.9" cy="506.2" r="1.7"/><circle cx="284.5" cy="507.1" r="1.7"/><circle cx="281.8" cy="506.2" r="1.7"/><circle cx="283.6" cy="509.3" r="1.7"/><circle cx="280" cy="511.1" r="1.7"/><circle cx="277.3" cy="511.6" r="1.7"/><circle cx="274.6" cy="512.9" r="1.7"/><circle cx="272.8" cy="508.9" r="1.7"/><circle cx="275.5" cy="508" r="1.7"/><circle cx="270.5" cy="512.9" r="1.7"/><circle cx="266" cy="511.1" r="1.7"/><circle cx="262.9" cy="511.6" r="1.7"/><circle cx="262" cy="508" r="1.7"/><circle cx="265.6" cy="506.6" r="1.7"/><circle cx="267.8" cy="508.4" r="1.7"/><circle cx="251.6" cy="506.2" r="1.7"/><circle cx="252.1" cy="508.4" r="1.7"/><circle cx="255.7" cy="509.3" r="1.7"/><circle cx="243.5" cy="507.5" r="1.7"/><circle cx="242.2" cy="511.1" r="1.7"/><circle cx="248" cy="514.3" r="1.7"/><circle cx="264.7" cy="516.1" r="1.7"/><circle cx="266" cy="518.8" r="1.7"/><circle cx="269.2" cy="518.3" r="1.7"/><circle cx="273.7" cy="517" r="1.7"/><circle cx="274.6" cy="521" r="1.7"/><circle cx="268.3" cy="520.1" r="1.7"/><circle cx="281.8" cy="517.9" r="1.7"/><circle cx="285.4" cy="515.6" r="1.7"/><circle cx="286.7" cy="519.7" r="1.7"/><circle cx="289" cy="512.5" r="1.7"/><circle cx="292.6" cy="509.8" r="1.7"/><circle cx="293.9" cy="519.7" r="1.7"/><circle cx="294.4" cy="521" r="1.7"/><circle cx="256.6" cy="523.3" r="1.7"/><circle cx="239.9" cy="527.8" r="1.7"/><circle cx="242.2" cy="526.4" r="1.7"/><circle cx="244.9" cy="531.4" r="1.7"/><circle cx="255.7" cy="530.9" r="1.7"/><circle cx="265.1" cy="528.7" r="1.7"/><circle cx="276.4" cy="527.3" r="1.7"/><circle cx="279.1" cy="530" r="1.7"/><circle cx="284" cy="525.5" r="1.7"/><circle cx="285.4" cy="533.2" r="1.7"/><circle cx="289.4" cy="530.5" r="1.7"/><circle cx="292.6" cy="528.2" r="1.7"/><circle cx="294.4" cy="531.8" r="1.7"/><circle cx="240.4" cy="534.1" r="1.7"/><circle cx="238.6" cy="536.8" r="1.7"/><circle cx="236.8" cy="539" r="1.7"/><circle cx="240.4" cy="538.6" r="1.7"/><circle cx="237.7" cy="547.1" r="1.7"/><circle cx="278" cy="562.1" r="1.7"/><circle cx="326.9" cy="493.5" r="1.7"/><circle cx="305.8" cy="494.9" r="1.7"/><circle cx="299.9" cy="498.5" r="1.7"/><circle cx="300.4" cy="499.9" r="1.7"/><circle cx="297.7" cy="502.6" r="1.7"/><circle cx="296.3" cy="506.2" r="1.7"/><circle cx="297.2" cy="508.4" r="1.7"/><circle cx="299.5" cy="510.2" r="1.7"/><circle cx="302.2" cy="507.5" r="1.7"/><circle cx="303.5" cy="508.9" r="1.7"/><circle cx="307.1" cy="507.1" r="1.7"/><circle cx="305.3" cy="511.1" r="1.7"/><circle cx="305.8" cy="513.8" r="1.7"/><circle cx="301.7" cy="516.1" r="1.7"/><circle cx="295.4" cy="517.9" r="1.7"/><circle cx="304" cy="517" r="1.7"/><circle cx="305.8" cy="518.8" r="1.7"/><circle cx="308.5" cy="518.8" r="1.7"/><circle cx="309.4" cy="516.1" r="1.7"/><circle cx="311.6" cy="514.3" r="1.7"/><circle cx="313.9" cy="514.3" r="1.7"/><circle cx="313.4" cy="504.8" r="1.7"/><circle cx="315.7" cy="506.6" r="1.7"/><circle cx="316.1" cy="508.4" r="1.7"/><circle cx="325.6" cy="509.8" r="1.7"/><circle cx="334.1" cy="514.7" r="1.7"/><circle cx="316.6" cy="516.1" r="1.7"/><circle cx="318.8" cy="515.6" r="1.7"/><circle cx="321.1" cy="516.5" r="1.7"/><circle cx="323.8" cy="517" r="1.7"/><circle cx="317.5" cy="520.6" r="1.7"/><circle cx="319.7" cy="521.5" r="1.7"/><circle cx="321.1" cy="522.4" r="1.7"/><circle cx="326" cy="521" r="1.7"/><circle cx="326.9" cy="523.3" r="1.7"/><circle cx="330.1" cy="524.6" r="1.7"/><circle cx="304" cy="521.9" r="1.7"/><circle cx="305.8" cy="521" r="1.7"/><circle cx="303.5" cy="523.7" r="1.7"/><circle cx="301.7" cy="526.4" r="1.7"/><circle cx="309.8" cy="524.2" r="1.7"/><circle cx="310.7" cy="526.4" r="1.7"/><circle cx="314.3" cy="525.5" r="1.7"/><circle cx="314.8" cy="527.8" r="1.7"/><circle cx="317" cy="528.7" r="1.7"/><circle cx="319.7" cy="529.6" r="1.7"/><circle cx="322" cy="527.3" r="1.7"/><circle cx="324.7" cy="530.5" r="1.7"/><circle cx="327.8" cy="528.7" r="1.7"/><circle cx="331" cy="530" r="1.7"/><circle cx="332.8" cy="531.8" r="1.7"/><circle cx="335.9" cy="532.3" r="1.7"/><circle cx="295.4" cy="527.8" r="1.7"/><circle cx="296.8" cy="535" r="1.7"/><circle cx="302.2" cy="531.4" r="1.7"/><circle cx="304.9" cy="530.9" r="1.7"/><circle cx="308.9" cy="530.9" r="1.7"/><circle cx="312.5" cy="530.9" r="1.7"/><circle cx="313" cy="534.1" r="1.7"/><circle cx="316.6" cy="533.2" r="1.7"/><circle cx="319.3" cy="532.3" r="1.7"/><circle cx="321.1" cy="535" r="1.7"/><circle cx="317.5" cy="535.9" r="1.7"/><circle cx="314.8" cy="536.8" r="1.7"/><circle cx="312.1" cy="537.7" r="1.7"/><circle cx="311.2" cy="539.9" r="1.7"/><circle cx="315.7" cy="539.5" r="1.7"/><circle cx="316.1" cy="542.6" r="1.7"/><circle cx="305.8" cy="542.6" r="1.7"/><circle cx="299.9" cy="538.6" r="1.7"/><circle cx="301.7" cy="535.9" r="1.7"/><circle cx="322" cy="538.1" r="1.7"/><circle cx="324.2" cy="539" r="1.7"/><circle cx="328.3" cy="534.1" r="1.7"/><circle cx="329.2" cy="536.8" r="1.7"/><circle cx="331" cy="538.6" r="1.7"/><circle cx="334.6" cy="537.2" r="1.7"/><circle cx="339.5" cy="538.6" r="1.7"/><circle cx="341.8" cy="541.7" r="1.7"/><circle cx="326.9" cy="541.7" r="1.7"/><circle cx="330.1" cy="542.2" r="1.7"/><circle cx="331.4" cy="544.4" r="1.7"/><circle cx="332.8" cy="546.2" r="1.7"/><circle cx="337.7" cy="544.9" r="1.7"/><circle cx="305.8" cy="548.5" r="1.7"/><circle cx="313" cy="547.6" r="1.7"/><circle cx="317.9" cy="548.5" r="1.7"/><circle cx="320.6" cy="548.9" r="1.7"/><circle cx="316.6" cy="550.8" r="1.7"/><circle cx="323.8" cy="550.8" r="1.7"/><circle cx="328.3" cy="548.1" r="1.7"/><circle cx="337.7" cy="550.4" r="1.7"/><circle cx="339.1" cy="554" r="1.7"/><circle cx="336.8" cy="557.6" r="1.7"/><circle cx="329.6" cy="552.6" r="1.7"/><circle cx="330.1" cy="553.3" r="1.7"/><circle cx="322.4" cy="556.2" r="1.7"/><circle cx="323.8" cy="555.8" r="1.7"/><circle cx="311.2" cy="554.9" r="1.7"/><circle cx="302.6" cy="554.7" r="1.7"/><circle cx="314.8" cy="567.5" r="1.7"/><circle cx="335" cy="566.1" r="1.7"/><circle cx="338.8" cy="584.8" r="1.7"/><circle cx="346.9" cy="581.9" r="1.7"/><circle cx="136.8" cy="498.4" r="1.7"/><circle cx="224.6" cy="461.9" r="1.7"/><circle cx="316.3" cy="515.2" r="1.7"/><circle cx="330.8" cy="523.1" r="1.7"/><circle cx="188.8" cy="516.8" r="1.7"/><circle cx="314.7" cy="526.4" r="1.7"/><circle cx="172.1" cy="493.2" r="1.7"/><circle cx="293.1" cy="505" r="1.7"/><circle cx="280.9" cy="487.3" r="1.7"/><circle cx="306.2" cy="519.4" r="1.7"/><circle cx="327" cy="522.4" r="1.7"/><circle cx="148.9" cy="507.9" r="1.7"/><circle cx="140.4" cy="507" r="1.7"/><circle cx="246.9" cy="490" r="1.7"/><circle cx="205.7" cy="487.5" r="1.7"/><circle cx="268.3" cy="483.5" r="1.7"/><circle cx="144.9" cy="506.7" r="1.7"/><circle cx="272.1" cy="497.7" r="1.7"/><circle cx="177.2" cy="507.8" r="1.7"/><circle cx="219.9" cy="463.4" r="1.7"/><circle cx="161.1" cy="507.7" r="1.7"/><circle cx="154.8" cy="501.1" r="1.7"/><circle cx="278.5" cy="487.4" r="1.7"/><circle cx="265.9" cy="505.8" r="1.7"/><circle cx="273.9" cy="494" r="1.7"/><circle cx="303.4" cy="520.4" r="1.7"/><circle cx="209.8" cy="521" r="1.7"/><circle cx="275.4" cy="506.2" r="1.7"/><circle cx="241.4" cy="490.8" r="1.7"/><circle cx="282.5" cy="502.8" r="1.7"/><circle cx="304.2" cy="532.7" r="1.7"/><circle cx="311" cy="539" r="1.7"/><circle cx="270.7" cy="489.5" r="1.7"/><circle cx="330.8" cy="546.1" r="1.7"/><circle cx="263.2" cy="488.6" r="1.7"/><circle cx="309.5" cy="531.7" r="1.7"/><circle cx="273.8" cy="514.4" r="1.7"/><circle cx="329.9" cy="541" r="1.7"/><circle cx="218.9" cy="487.9" r="1.7"/><circle cx="315.8" cy="534.8" r="1.7"/><circle cx="238" cy="535.3" r="1.7"/><circle cx="265.3" cy="482.5" r="1.7"/><circle cx="214.8" cy="527.3" r="1.7"/><circle cx="281.9" cy="507.9" r="1.7"/><circle cx="320.1" cy="520.4" r="1.7"/><circle cx="330.3" cy="540" r="1.7"/><circle cx="321.4" cy="528.5" r="1.7"/><circle cx="259" cy="488.4" r="1.7"/><circle cx="266.4" cy="476.2" r="1.7"/><circle cx="228.7" cy="461" r="1.7"/><circle cx="275.7" cy="498" r="1.7"/><circle cx="212.3" cy="526.4" r="1.7"/><circle cx="321.8" cy="534" r="1.7"/><circle cx="217.2" cy="491" r="1.7"/><circle cx="214.5" cy="485.3" r="1.7"/><circle cx="315.3" cy="540.9" r="1.7"/><circle cx="182.9" cy="489" r="1.7"/><circle cx="172.8" cy="525.5" r="1.7"/><circle cx="285.3" cy="505.3" r="1.7"/><circle cx="267.3" cy="487.7" r="1.7"/><circle cx="249" cy="494.7" r="1.7"/><circle cx="320.4" cy="515.3" r="1.7"/><circle cx="328.8" cy="532.4" r="1.7"/><circle cx="262.4" cy="484.4" r="1.7"/><circle cx="327.3" cy="540.5" r="1.7"/><circle cx="332.5" cy="544.9" r="1.7"/><circle cx="290" cy="507.1" r="1.7"/><circle cx="246.2" cy="495.8" r="1.7"/><circle cx="132" cy="484.8" r="1.7"/><circle cx="181.6" cy="488.8" r="1.7"/><circle cx="217.4" cy="483.2" r="1.7"/><circle cx="296.2" cy="508" r="1.7"/><circle cx="185.8" cy="509.9" r="1.7"/><circle cx="215.7" cy="522.4" r="1.7"/><circle cx="177.3" cy="503.4" r="1.7"/><circle cx="324.1" cy="528.8" r="1.7"/><circle cx="194.3" cy="510.2" r="1.7"/><circle cx="328.2" cy="527.1" r="1.7"/><circle cx="133.9" cy="494.8" r="1.7"/><circle cx="163.7" cy="507.4" r="1.7"/><circle cx="143.8" cy="505.3" r="1.7"/><circle cx="243.4" cy="483" r="1.7"/><circle cx="329" cy="546.9" r="1.7"/><circle cx="156" cy="508.4" r="1.7"/><circle cx="303.2" cy="524.8" r="1.7"/><circle cx="323.5" cy="549.5" r="1.7"/><circle cx="303.6" cy="516.2" r="1.7"/><circle cx="301.6" cy="536.8" r="1.7"/><circle cx="138.8" cy="502" r="1.7"/><circle cx="311.2" cy="516" r="1.7"/><circle cx="318.9" cy="530.8" r="1.7"/><circle cx="169.7" cy="529.6" r="1.7"/><circle cx="268.7" cy="482" r="1.7"/><circle cx="142" cy="503" r="1.7"/><circle cx="256.1" cy="483.5" r="1.7"/><circle cx="150.1" cy="510.1" r="1.7"/><circle cx="193.2" cy="522.9" r="1.7"/><circle cx="179.9" cy="484.2" r="1.7"/></g>
<g fill="#46a0ea" stroke="#10284a" stroke-width="0.8"><circle cx="554.8" cy="110.4" r="1.7"/><circle cx="550.2" cy="132.4" r="1.7"/><circle cx="557.6" cy="130.8" r="1.7"/><circle cx="524.2" cy="137.3" r="1.7"/><circle cx="531.6" cy="138.6" r="1.7"/><circle cx="535.2" cy="143" r="1.7"/><circle cx="550.2" cy="140.5" r="1.7"/><circle cx="533.1" cy="149.6" r="1.7"/><circle cx="576.2" cy="138.4" r="1.7"/><circle cx="475.8" cy="145.5" r="1.7"/><circle cx="468.4" cy="150.3" r="1.7"/><circle cx="468.4" cy="152.9" r="1.7"/><circle cx="472.1" cy="151.2" r="1.7"/><circle cx="475.8" cy="150.7" r="1.7"/><circle cx="475.8" cy="164.3" r="1.7"/><circle cx="519.9" cy="162" r="1.7"/><circle cx="576.2" cy="156.7" r="1.7"/><circle cx="598.3" cy="134.3" r="1.7"/><circle cx="583.7" cy="140.9" r="1.7"/><circle cx="591" cy="142.6" r="1.7"/><circle cx="600" cy="144.4" r="1.7"/><circle cx="619.9" cy="141.2" r="1.7"/><circle cx="594.7" cy="150.7" r="1.7"/><circle cx="602.4" cy="152" r="1.7"/><circle cx="591" cy="154.3" r="1.7"/><circle cx="594.7" cy="156.8" r="1.7"/><circle cx="613.3" cy="151.8" r="1.7"/><circle cx="654.1" cy="146.5" r="1.7"/><circle cx="576.2" cy="159.5" r="1.7"/><circle cx="513.4" cy="169.1" r="1.7"/><circle cx="517.1" cy="171.1" r="1.7"/><circle cx="513" cy="187" r="1.7"/><circle cx="517.1" cy="176.8" r="1.7"/><circle cx="517.1" cy="180.8" r="1.7"/><circle cx="516.7" cy="188.5" r="1.7"/><circle cx="513.7" cy="192.1" r="1.7"/><circle cx="505.6" cy="204.6" r="1.7"/><circle cx="509.3" cy="203.1" r="1.7"/><circle cx="520.8" cy="181.4" r="1.7"/><circle cx="523.8" cy="165.9" r="1.7"/><circle cx="528.2" cy="165.9" r="1.7"/><circle cx="524.7" cy="176.8" r="1.7"/><circle cx="527.6" cy="172.4" r="1.7"/><circle cx="527.6" cy="175.8" r="1.7"/><circle cx="523.8" cy="185.5" r="1.7"/><circle cx="530.6" cy="184.5" r="1.7"/><circle cx="524.2" cy="193.1" r="1.7"/><circle cx="517.1" cy="197.9" r="1.7"/><circle cx="520.5" cy="198.1" r="1.7"/><circle cx="519.6" cy="201.1" r="1.7"/><circle cx="520.5" cy="204" r="1.7"/><circle cx="530.6" cy="198.6" r="1.7"/><circle cx="528.9" cy="199.3" r="1.7"/><circle cx="531.9" cy="176.9" r="1.7"/><circle cx="535.3" cy="175.3" r="1.7"/><circle cx="537.4" cy="165.7" r="1.7"/><circle cx="539" cy="172" r="1.7"/><circle cx="539.4" cy="174.2" r="1.7"/><circle cx="542.4" cy="173.9" r="1.7"/><circle cx="546.7" cy="175.9" r="1.7"/><circle cx="547.5" cy="180.3" r="1.7"/><circle cx="535.3" cy="188.6" r="1.7"/><circle cx="536.5" cy="190.2" r="1.7"/><circle cx="539" cy="192.9" r="1.7"/><circle cx="542.4" cy="191" r="1.7"/><circle cx="528.1" cy="207" r="1.7"/><circle cx="542.9" cy="210.3" r="1.7"/><circle cx="553.9" cy="177.7" r="1.7"/><circle cx="553.9" cy="193.5" r="1.7"/><circle cx="557.6" cy="164.8" r="1.7"/><circle cx="561.4" cy="166.9" r="1.7"/><circle cx="561.4" cy="171.4" r="1.7"/><circle cx="557.6" cy="182.3" r="1.7"/><circle cx="562" cy="181.9" r="1.7"/><circle cx="557.6" cy="201" r="1.7"/><circle cx="568.6" cy="172.1" r="1.7"/><circle cx="572" cy="172.6" r="1.7"/><circle cx="573.7" cy="173.3" r="1.7"/><circle cx="575.4" cy="168.2" r="1.7"/><circle cx="579.6" cy="173.8" r="1.7"/><circle cx="572.5" cy="183.7" r="1.7"/><circle cx="576.2" cy="187.7" r="1.7"/><circle cx="576.2" cy="193.7" r="1.7"/><circle cx="579.6" cy="196.1" r="1.7"/><circle cx="571.2" cy="202.1" r="1.7"/><circle cx="565.6" cy="216.7" r="1.7"/><circle cx="550.2" cy="226.8" r="1.7"/><circle cx="483.3" cy="168.8" r="1.7"/><circle cx="468.4" cy="172.9" r="1.7"/><circle cx="468.4" cy="176.1" r="1.7"/><circle cx="472.1" cy="171.5" r="1.7"/><circle cx="472.1" cy="174.8" r="1.7"/><circle cx="472.1" cy="177.6" r="1.7"/><circle cx="475.8" cy="170.8" r="1.7"/><circle cx="479.6" cy="172.8" r="1.7"/><circle cx="483.3" cy="173.3" r="1.7"/><circle cx="475.8" cy="178.2" r="1.7"/><circle cx="472.1" cy="182.6" r="1.7"/><circle cx="472.1" cy="186.1" r="1.7"/><circle cx="475.8" cy="182.3" r="1.7"/><circle cx="479.6" cy="181" r="1.7"/><circle cx="479.6" cy="183.4" r="1.7"/><circle cx="479.6" cy="186.3" r="1.7"/><circle cx="483.3" cy="182.2" r="1.7"/><circle cx="483.3" cy="185.3" r="1.7"/><circle cx="483.3" cy="190.4" r="1.7"/><circle cx="487" cy="178.7" r="1.7"/><circle cx="487" cy="184.3" r="1.7"/><circle cx="487" cy="186.9" r="1.7"/><circle cx="487" cy="189" r="1.7"/><circle cx="487" cy="191.8" r="1.7"/><circle cx="487" cy="196.2" r="1.7"/><circle cx="490.7" cy="174.9" r="1.7"/><circle cx="490.7" cy="178" r="1.7"/><circle cx="490.7" cy="182" r="1.7"/><circle cx="490.7" cy="185.2" r="1.7"/><circle cx="490.7" cy="194.1" r="1.7"/><circle cx="494.4" cy="181.4" r="1.7"/><circle cx="501.8" cy="175.5" r="1.7"/><circle cx="498.1" cy="185" r="1.7"/><circle cx="498.1" cy="187.9" r="1.7"/><circle cx="501.8" cy="186.2" r="1.7"/><circle cx="498.1" cy="190.7" r="1.7"/><circle cx="496.9" cy="192.9" r="1.7"/><circle cx="501.8" cy="191.2" r="1.7"/><circle cx="501.8" cy="194.7" r="1.7"/><circle cx="505.6" cy="191.6" r="1.7"/><circle cx="509.3" cy="166.4" r="1.7"/><circle cx="509.3" cy="182" r="1.7"/><circle cx="509.3" cy="184.2" r="1.7"/><circle cx="509.3" cy="194.9" r="1.7"/><circle cx="509.3" cy="197.4" r="1.7"/><circle cx="587.3" cy="161.9" r="1.7"/><circle cx="591" cy="163.8" r="1.7"/><circle cx="594.7" cy="169.7" r="1.7"/><circle cx="584" cy="175" r="1.7"/><circle cx="589.2" cy="174" r="1.7"/><circle cx="613.3" cy="158.2" r="1.7"/><circle cx="616.1" cy="161.7" r="1.7"/><circle cx="613.3" cy="166.5" r="1.7"/><circle cx="613.3" cy="170.2" r="1.7"/><circle cx="620.7" cy="164.7" r="1.7"/><circle cx="621.9" cy="168.7" r="1.7"/><circle cx="621.2" cy="171.5" r="1.7"/><circle cx="624.3" cy="170.8" r="1.7"/><circle cx="624.8" cy="174.4" r="1.7"/><circle cx="627.9" cy="176.1" r="1.7"/><circle cx="630.6" cy="162.5" r="1.7"/><circle cx="629.7" cy="169.1" r="1.7"/><circle cx="631.6" cy="171.6" r="1.7"/><circle cx="635.8" cy="157.5" r="1.7"/><circle cx="635.8" cy="168.6" r="1.7"/><circle cx="635.8" cy="173.6" r="1.7"/><circle cx="639.8" cy="168.3" r="1.7"/><circle cx="643.5" cy="164.3" r="1.7"/><circle cx="646.7" cy="160.5" r="1.7"/><circle cx="646.7" cy="165" r="1.7"/><circle cx="651.7" cy="168.8" r="1.7"/><circle cx="655.9" cy="157.4" r="1.7"/><circle cx="658.1" cy="162.4" r="1.7"/><circle cx="658.1" cy="165.7" r="1.7"/><circle cx="661.4" cy="158.8" r="1.7"/><circle cx="668.7" cy="168.1" r="1.7"/><circle cx="669.5" cy="169" r="1.7"/><circle cx="672.7" cy="171" r="1.7"/><circle cx="672.7" cy="176.2" r="1.7"/><circle cx="669.1" cy="178.3" r="1.7"/><circle cx="661.8" cy="173.2" r="1.7"/><circle cx="657.7" cy="172.6" r="1.7"/><circle cx="657.7" cy="176.9" r="1.7"/><circle cx="654.4" cy="174.7" r="1.7"/><circle cx="650.4" cy="175" r="1.7"/><circle cx="650.4" cy="178.1" r="1.7"/><circle cx="643.5" cy="178.3" r="1.7"/><circle cx="643.5" cy="182.8" r="1.7"/><circle cx="644" cy="183.8" r="1.7"/><circle cx="646.7" cy="180.8" r="1.7"/><circle cx="639.8" cy="185" r="1.7"/><circle cx="635.8" cy="186.6" r="1.7"/><circle cx="635.8" cy="187.7" r="1.7"/><circle cx="631.6" cy="178.7" r="1.7"/><circle cx="631.6" cy="183.7" r="1.7"/><circle cx="627.9" cy="187.7" r="1.7"/><circle cx="624.3" cy="183" r="1.7"/><circle cx="620.7" cy="180.2" r="1.7"/><circle cx="617" cy="176.4" r="1.7"/><circle cx="613.3" cy="177.6" r="1.7"/><circle cx="606" cy="177.2" r="1.7"/><circle cx="603.3" cy="175.6" r="1.7"/><circle cx="593.8" cy="185.9" r="1.7"/><circle cx="591" cy="187.9" r="1.7"/><circle cx="591" cy="191.2" r="1.7"/><circle cx="604.7" cy="185.6" r="1.7"/><circle cx="608.4" cy="186.6" r="1.7"/><circle cx="613.3" cy="187.8" r="1.7"/><circle cx="617" cy="193.4" r="1.7"/><circle cx="619.8" cy="192" r="1.7"/><circle cx="621.2" cy="191" r="1.7"/><circle cx="623" cy="195.4" r="1.7"/><circle cx="627.9" cy="196" r="1.7"/><circle cx="628.4" cy="196.9" r="1.7"/><circle cx="617" cy="201.1" r="1.7"/><circle cx="638" cy="199.9" r="1.7"/><circle cx="639.4" cy="203.1" r="1.7"/><circle cx="643.1" cy="200.1" r="1.7"/><circle cx="643.1" cy="190.3" r="1.7"/><circle cx="643.1" cy="192.2" r="1.7"/><circle cx="643.1" cy="188.4" r="1.7"/><circle cx="650.4" cy="186.1" r="1.7"/><circle cx="650.4" cy="187.4" r="1.7"/><circle cx="653.5" cy="191.9" r="1.7"/><circle cx="661.4" cy="188.4" r="1.7"/><circle cx="661.4" cy="194.6" r="1.7"/><circle cx="661.4" cy="195.8" r="1.7"/><circle cx="672.7" cy="186.9" r="1.7"/><circle cx="676.4" cy="194.7" r="1.7"/><circle cx="676.4" cy="199.6" r="1.7"/><circle cx="680.1" cy="182.7" r="1.7"/><circle cx="691.1" cy="181.4" r="1.7"/><circle cx="695.1" cy="182" r="1.7"/><circle cx="687.4" cy="152.5" r="1.7"/><circle cx="687.4" cy="200.1" r="1.7"/><circle cx="687.4" cy="211.2" r="1.7"/><circle cx="695.1" cy="216.3" r="1.7"/><circle cx="665.4" cy="207.6" r="1.7"/><circle cx="669.1" cy="212.8" r="1.7"/><circle cx="654.8" cy="213" r="1.7"/><circle cx="643.1" cy="207.5" r="1.7"/><circle cx="628.4" cy="209.9" r="1.7"/><circle cx="606" cy="210.9" r="1.7"/><circle cx="594.7" cy="215.9" r="1.7"/><circle cx="587.3" cy="208.7" r="1.7"/><circle cx="606" cy="229.4" r="1.7"/><circle cx="487" cy="36.2" r="1.7"/><circle cx="617" cy="177.6" r="1.7"/><circle cx="591" cy="189.6" r="1.7"/><circle cx="584" cy="176.5" r="1.7"/><circle cx="643.1" cy="194" r="1.7"/><circle cx="646.7" cy="159.5" r="1.7"/><circle cx="531.9" cy="175.6" r="1.7"/><circle cx="643.1" cy="191.4" r="1.7"/><circle cx="650.4" cy="176.4" r="1.7"/><circle cx="501.8" cy="189.7" r="1.7"/><circle cx="498.1" cy="186.6" r="1.7"/><circle cx="517.1" cy="182" r="1.7"/><circle cx="631.6" cy="185.1" r="1.7"/><circle cx="479.6" cy="171" r="1.7"/><circle cx="535.3" cy="187.5" r="1.7"/><circle cx="672.7" cy="169.5" r="1.7"/><circle cx="517.1" cy="172.5" r="1.7"/><circle cx="483.3" cy="183.9" r="1.7"/><circle cx="576.2" cy="195.5" r="1.7"/><circle cx="643.1" cy="201" r="1.7"/><circle cx="654.4" cy="176" r="1.7"/><circle cx="644" cy="182.9" r="1.7"/><circle cx="672.7" cy="177.5" r="1.7"/><circle cx="635.8" cy="167.6" r="1.7"/><circle cx="643.5" cy="179.2" r="1.7"/><circle cx="472.1" cy="180.9" r="1.7"/><circle cx="546.7" cy="174.3" r="1.7"/><circle cx="487" cy="188.6" r="1.7"/><circle cx="619.8" cy="190.7" r="1.7"/><circle cx="669.5" cy="170.4" r="1.7"/><circle cx="620.7" cy="178.6" r="1.7"/><circle cx="635.8" cy="186.7" r="1.7"/><circle cx="668.7" cy="166.3" r="1.7"/><circle cx="468.4" cy="174" r="1.7"/><circle cx="621.2" cy="192.2" r="1.7"/><circle cx="496.9" cy="194.7" r="1.7"/><circle cx="635.8" cy="185.7" r="1.7"/><circle cx="475.8" cy="179.2" r="1.7"/><circle cx="568.6" cy="170.8" r="1.7"/><circle cx="483.3" cy="188.7" r="1.7"/><circle cx="475.8" cy="172.4" r="1.7"/><circle cx="472.1" cy="179.3" r="1.7"/><circle cx="643.5" cy="165.2" r="1.7"/><circle cx="487" cy="185.6" r="1.7"/><circle cx="657.7" cy="171.1" r="1.7"/><circle cx="650.4" cy="186.6" r="1.7"/><circle cx="479.6" cy="182.6" r="1.7"/><circle cx="616.1" cy="163.3" r="1.7"/><circle cx="475.8" cy="181.5" r="1.7"/><circle cx="608.4" cy="185.3" r="1.7"/><circle cx="494.4" cy="183.2" r="1.7"/><circle cx="472.1" cy="150.4" r="1.7"/><circle cx="536.5" cy="188.6" r="1.7"/><circle cx="539.4" cy="175.8" r="1.7"/><circle cx="527.6" cy="174.1" r="1.7"/><circle cx="646.7" cy="166.6" r="1.7"/><circle cx="539" cy="170.6" r="1.7"/><circle cx="479.6" cy="181.7" r="1.7"/><circle cx="621.9" cy="167.1" r="1.7"/><circle cx="617" cy="192.1" r="1.7"/><circle cx="490.7" cy="176.9" r="1.7"/><circle cx="487" cy="180.3" r="1.7"/><circle cx="472.1" cy="170.5" r="1.7"/><circle cx="655.9" cy="156.1" r="1.7"/><circle cx="542.4" cy="172.7" r="1.7"/><circle cx="591" cy="186.4" r="1.7"/><circle cx="498.1" cy="186.3" r="1.7"/><circle cx="517.1" cy="178.6" r="1.7"/></g>
<g fill="#46a0ea" stroke="#10284a" stroke-width="0.8"><circle cx="497.4" cy="407.2" r="1.7"/><circle cx="464.7" cy="467.5" r="1.7"/><circle cx="489.1" cy="464.4" r="1.7"/><circle cx="494.2" cy="467.7" r="1.7"/><circle cx="506.2" cy="456.4" r="1.7"/><circle cx="485.9" cy="475.4" r="1.7"/><circle cx="484.1" cy="479.9" r="1.7"/><circle cx="485.2" cy="480.5" r="1.7"/><circle cx="501.2" cy="480.5" r="1.7"/><circle cx="513.1" cy="476" r="1.7"/><circle cx="517.5" cy="474.8" r="1.7"/><circle cx="468.6" cy="485" r="1.7"/><circle cx="472.2" cy="483.8" r="1.7"/><circle cx="465.2" cy="487.6" r="1.7"/><circle cx="464.5" cy="490.4" r="1.7"/><circle cx="463.6" cy="493.7" r="1.7"/><circle cx="465" cy="495.3" r="1.7"/><circle cx="464.5" cy="497.2" r="1.7"/><circle cx="466.3" cy="496.4" r="1.7"/><circle cx="469.5" cy="496.4" r="1.7"/><circle cx="471.1" cy="490" r="1.7"/><circle cx="477.6" cy="486.5" r="1.7"/><circle cx="475.6" cy="491.6" r="1.7"/><circle cx="476" cy="492.2" r="1.7"/><circle cx="478.9" cy="494.4" r="1.7"/><circle cx="480.1" cy="495.4" r="1.7"/><circle cx="483.4" cy="494.4" r="1.7"/><circle cx="485.7" cy="495.7" r="1.7"/><circle cx="487.9" cy="496.6" r="1.7"/><circle cx="488.2" cy="489.9" r="1.7"/><circle cx="492.4" cy="487.2" r="1.7"/><circle cx="501.9" cy="488.5" r="1.7"/><circle cx="506.8" cy="483.4" r="1.7"/><circle cx="509.7" cy="483" r="1.7"/><circle cx="510.4" cy="487.2" r="1.7"/><circle cx="508" cy="492" r="1.7"/><circle cx="517.8" cy="483.7" r="1.7"/><circle cx="518.9" cy="484.6" r="1.7"/><circle cx="474.2" cy="500.3" r="1.7"/><circle cx="495.1" cy="496.4" r="1.7"/><circle cx="496.5" cy="496.7" r="1.7"/><circle cx="500.5" cy="496.1" r="1.7"/><circle cx="515.8" cy="492.8" r="1.7"/><circle cx="518" cy="492" r="1.7"/><circle cx="469.7" cy="503.7" r="1.7"/><circle cx="497.4" cy="499.5" r="1.7"/><circle cx="516.3" cy="496.3" r="1.7"/><circle cx="518.9" cy="495.9" r="1.7"/><circle cx="481.2" cy="501.7" r="1.7"/><circle cx="478.9" cy="504.3" r="1.7"/><circle cx="480.3" cy="505.9" r="1.7"/><circle cx="478.5" cy="508.4" r="1.7"/><circle cx="482.1" cy="506.9" r="1.7"/><circle cx="483.9" cy="508.4" r="1.7"/><circle cx="484.8" cy="503.8" r="1.7"/><circle cx="487.5" cy="503.4" r="1.7"/><circle cx="489.3" cy="504" r="1.7"/><circle cx="491.5" cy="501.9" r="1.7"/><circle cx="491.5" cy="504.6" r="1.7"/><circle cx="486.6" cy="511.2" r="1.7"/><circle cx="485.2" cy="512.7" r="1.7"/><circle cx="488.4" cy="510.4" r="1.7"/><circle cx="489.7" cy="508" r="1.7"/><circle cx="490.2" cy="512" r="1.7"/><circle cx="488.8" cy="514.5" r="1.7"/><circle cx="491.1" cy="515" r="1.7"/><circle cx="490.6" cy="517.8" r="1.7"/><circle cx="492" cy="518.9" r="1.7"/><circle cx="494.2" cy="511.8" r="1.7"/><circle cx="495.1" cy="514.8" r="1.7"/><circle cx="496" cy="509.3" r="1.7"/><circle cx="496.5" cy="504.7" r="1.7"/><circle cx="499.2" cy="507" r="1.7"/><circle cx="499.6" cy="510.5" r="1.7"/><circle cx="501.9" cy="507.1" r="1.7"/><circle cx="498.3" cy="515.7" r="1.7"/><circle cx="499.6" cy="516.8" r="1.7"/><circle cx="501" cy="513.9" r="1.7"/><circle cx="503.2" cy="514.9" r="1.7"/><circle cx="504.1" cy="508.5" r="1.7"/><circle cx="506.4" cy="510" r="1.7"/><circle cx="508.2" cy="504.7" r="1.7"/><circle cx="508.2" cy="508.3" r="1.7"/><circle cx="508.6" cy="512.3" r="1.7"/><circle cx="510.4" cy="514.7" r="1.7"/><circle cx="506.4" cy="517.1" r="1.7"/><circle cx="511.3" cy="503.3" r="1.7"/><circle cx="494.7" cy="521.1" r="1.7"/><circle cx="495.6" cy="521.9" r="1.7"/><circle cx="497.4" cy="523.9" r="1.7"/><circle cx="499.6" cy="520.9" r="1.7"/><circle cx="505" cy="523.6" r="1.7"/><circle cx="509.1" cy="524.8" r="1.7"/><circle cx="511.3" cy="520.4" r="1.7"/><circle cx="516.3" cy="519.6" r="1.7"/><circle cx="516.3" cy="513.8" r="1.7"/><circle cx="517.2" cy="508.7" r="1.7"/><circle cx="517.5" cy="501.4" r="1.7"/><circle cx="513.1" cy="526" r="1.7"/><circle cx="515.4" cy="527.4" r="1.7"/><circle cx="518" cy="526.1" r="1.7"/><circle cx="500.5" cy="531.5" r="1.7"/><circle cx="505.5" cy="530.8" r="1.7"/><circle cx="508.6" cy="530.7" r="1.7"/><circle cx="514" cy="530.7" r="1.7"/><circle cx="517.2" cy="530.8" r="1.7"/><circle cx="510.9" cy="534.8" r="1.7"/><circle cx="506.8" cy="538.7" r="1.7"/><circle cx="510.4" cy="538.1" r="1.7"/><circle cx="513.6" cy="535.8" r="1.7"/><circle cx="517.2" cy="533.8" r="1.7"/><circle cx="508.9" cy="548.5" r="1.7"/><circle cx="516.1" cy="545.7" r="1.7"/><circle cx="517.5" cy="543.4" r="1.7"/><circle cx="542.9" cy="412.5" r="1.7"/><circle cx="530.1" cy="424.6" r="1.7"/><circle cx="535.2" cy="423.6" r="1.7"/><circle cx="519.9" cy="431.8" r="1.7"/><circle cx="549.5" cy="428.8" r="1.7"/><circle cx="554.1" cy="425" r="1.7"/><circle cx="560.4" cy="427.3" r="1.7"/><circle cx="521.5" cy="459.4" r="1.7"/><circle cx="548.3" cy="450" r="1.7"/><circle cx="560" cy="442.6" r="1.7"/><circle cx="563.1" cy="445.8" r="1.7"/><circle cx="564.5" cy="447.5" r="1.7"/><circle cx="565.4" cy="451.7" r="1.7"/><circle cx="553.7" cy="454.1" r="1.7"/><circle cx="555.5" cy="455.2" r="1.7"/><circle cx="561.8" cy="456.9" r="1.7"/><circle cx="563.6" cy="456.9" r="1.7"/><circle cx="568.1" cy="455.1" r="1.7"/><circle cx="569" cy="455.3" r="1.7"/><circle cx="573.5" cy="442.5" r="1.7"/><circle cx="574.8" cy="449" r="1.7"/><circle cx="577.1" cy="450.1" r="1.7"/><circle cx="574.4" cy="452.7" r="1.7"/><circle cx="573" cy="456.1" r="1.7"/><circle cx="575.3" cy="458.8" r="1.7"/><circle cx="578.4" cy="457.1" r="1.7"/><circle cx="559.1" cy="460.5" r="1.7"/><circle cx="558.6" cy="463.2" r="1.7"/><circle cx="550.5" cy="463" r="1.7"/><circle cx="545.8" cy="464.6" r="1.7"/><circle cx="542" cy="466.7" r="1.7"/><circle cx="565.4" cy="464.5" r="1.7"/><circle cx="530.1" cy="470.1" r="1.7"/><circle cx="533.7" cy="473.4" r="1.7"/><circle cx="551.7" cy="471.8" r="1.7"/><circle cx="557.7" cy="470.2" r="1.7"/><circle cx="575.3" cy="466.5" r="1.7"/><circle cx="577.5" cy="467.5" r="1.7"/><circle cx="525.8" cy="476.9" r="1.7"/><circle cx="524.9" cy="479.9" r="1.7"/><circle cx="533.9" cy="480.5" r="1.7"/><circle cx="531.2" cy="484.1" r="1.7"/><circle cx="528" cy="485.5" r="1.7"/><circle cx="523.1" cy="483.6" r="1.7"/><circle cx="524.4" cy="487" r="1.7"/><circle cx="526.2" cy="488" r="1.7"/><circle cx="520.4" cy="491.2" r="1.7"/><circle cx="523.1" cy="491.7" r="1.7"/><circle cx="527.6" cy="491" r="1.7"/><circle cx="533" cy="489.2" r="1.7"/><circle cx="533.9" cy="491.3" r="1.7"/><circle cx="528.9" cy="494.8" r="1.7"/><circle cx="539.7" cy="484.6" r="1.7"/><circle cx="542.4" cy="486" r="1.7"/><circle cx="546" cy="483.6" r="1.7"/><circle cx="551" cy="486" r="1.7"/><circle cx="554.1" cy="481" r="1.7"/><circle cx="555.9" cy="483" r="1.7"/><circle cx="554.6" cy="485.4" r="1.7"/><circle cx="558.6" cy="479.9" r="1.7"/><circle cx="561.3" cy="479.5" r="1.7"/><circle cx="561.8" cy="482.1" r="1.7"/><circle cx="565.4" cy="480.6" r="1.7"/><circle cx="559.1" cy="485.2" r="1.7"/><circle cx="561.8" cy="485.2" r="1.7"/><circle cx="563.6" cy="484.5" r="1.7"/><circle cx="557.3" cy="490" r="1.7"/><circle cx="562.2" cy="488.3" r="1.7"/><circle cx="574.4" cy="473" r="1.7"/><circle cx="577.5" cy="474.3" r="1.7"/><circle cx="573.9" cy="479.3" r="1.7"/><circle cx="574.8" cy="481.9" r="1.7"/><circle cx="578.4" cy="477.7" r="1.7"/><circle cx="569.9" cy="488" r="1.7"/><circle cx="573.5" cy="487.5" r="1.7"/><circle cx="577.1" cy="486.9" r="1.7"/><circle cx="538.4" cy="491.5" r="1.7"/><circle cx="546.5" cy="490.3" r="1.7"/><circle cx="549.6" cy="493" r="1.7"/><circle cx="544.7" cy="495.1" r="1.7"/><circle cx="578.9" cy="489.8" r="1.7"/><circle cx="535.2" cy="497.9" r="1.7"/><circle cx="537.5" cy="497.5" r="1.7"/><circle cx="538.4" cy="496.8" r="1.7"/><circle cx="523.5" cy="500.6" r="1.7"/><circle cx="521.3" cy="498.2" r="1.7"/><circle cx="524.9" cy="503.6" r="1.7"/><circle cx="522.2" cy="505.8" r="1.7"/><circle cx="523.5" cy="507.8" r="1.7"/><circle cx="521.3" cy="510.8" r="1.7"/><circle cx="524.4" cy="512.6" r="1.7"/><circle cx="527.1" cy="514.4" r="1.7"/><circle cx="530.3" cy="511.2" r="1.7"/><circle cx="533.9" cy="506.2" r="1.7"/><circle cx="537.5" cy="505.2" r="1.7"/><circle cx="535.2" cy="511.4" r="1.7"/><circle cx="538.4" cy="508.2" r="1.7"/><circle cx="541.1" cy="507.8" r="1.7"/><circle cx="543.8" cy="508.8" r="1.7"/><circle cx="533" cy="514.9" r="1.7"/><circle cx="530.3" cy="517.5" r="1.7"/><circle cx="523.5" cy="519.8" r="1.7"/><circle cx="520.4" cy="522.7" r="1.7"/><circle cx="535.7" cy="518.1" r="1.7"/><circle cx="533.4" cy="520.6" r="1.7"/><circle cx="542.4" cy="516.6" r="1.7"/><circle cx="545.6" cy="519.1" r="1.7"/><circle cx="542.4" cy="502.2" r="1.7"/><circle cx="544.2" cy="499.7" r="1.7"/><circle cx="548.7" cy="500.3" r="1.7"/><circle cx="553.2" cy="499.6" r="1.7"/><circle cx="546.9" cy="504.2" r="1.7"/><circle cx="548.3" cy="504.9" r="1.7"/><circle cx="556.4" cy="503.2" r="1.7"/><circle cx="555.5" cy="506.9" r="1.7"/><circle cx="559.5" cy="499.5" r="1.7"/><circle cx="562.7" cy="499.9" r="1.7"/><circle cx="560.9" cy="493.9" r="1.7"/><circle cx="570.8" cy="494.7" r="1.7"/><circle cx="578.4" cy="494.4" r="1.7"/><circle cx="569" cy="503.1" r="1.7"/><circle cx="570.8" cy="506.4" r="1.7"/><circle cx="568.5" cy="509.4" r="1.7"/><circle cx="571.7" cy="512" r="1.7"/><circle cx="576.2" cy="513.1" r="1.7"/><circle cx="579.3" cy="515" r="1.7"/><circle cx="551.4" cy="512.1" r="1.7"/><circle cx="552.8" cy="514.1" r="1.7"/><circle cx="554.6" cy="516.1" r="1.7"/><circle cx="558.2" cy="511.9" r="1.7"/><circle cx="559.1" cy="513.6" r="1.7"/><circle cx="559.5" cy="516.2" r="1.7"/><circle cx="550.1" cy="521.7" r="1.7"/><circle cx="556.4" cy="521.2" r="1.7"/><circle cx="558.2" cy="521.3" r="1.7"/><circle cx="560" cy="521" r="1.7"/><circle cx="557.3" cy="525" r="1.7"/><circle cx="564.5" cy="518.5" r="1.7"/><circle cx="566.3" cy="521" r="1.7"/><circle cx="570.8" cy="521.7" r="1.7"/><circle cx="572.1" cy="517" r="1.7"/><circle cx="577.5" cy="520.1" r="1.7"/><circle cx="537.5" cy="523.6" r="1.7"/><circle cx="541.1" cy="523.1" r="1.7"/><circle cx="536.1" cy="527.4" r="1.7"/><circle cx="539.7" cy="528.7" r="1.7"/><circle cx="542.4" cy="525.1" r="1.7"/><circle cx="521.3" cy="528.4" r="1.7"/><circle cx="524.9" cy="531.4" r="1.7"/><circle cx="522.2" cy="535.9" r="1.7"/><circle cx="520.4" cy="541.1" r="1.7"/><circle cx="524.9" cy="544" r="1.7"/><circle cx="527.1" cy="547.3" r="1.7"/><circle cx="533" cy="541" r="1.7"/><circle cx="533" cy="545" r="1.7"/><circle cx="538.8" cy="541.9" r="1.7"/><circle cx="542" cy="546.3" r="1.7"/><circle cx="546.5" cy="535.3" r="1.7"/><circle cx="549.2" cy="531.7" r="1.7"/><circle cx="554.1" cy="531.4" r="1.7"/><circle cx="551.9" cy="536.7" r="1.7"/><circle cx="546.9" cy="539.2" r="1.7"/><circle cx="550.5" cy="541" r="1.7"/><circle cx="553.2" cy="544.1" r="1.7"/><circle cx="560" cy="529.6" r="1.7"/><circle cx="560" cy="536.3" r="1.7"/><circle cx="570.8" cy="529.7" r="1.7"/><circle cx="567.2" cy="537.5" r="1.7"/><circle cx="568.5" cy="540.4" r="1.7"/><circle cx="579.3" cy="529.7" r="1.7"/><circle cx="532.5" cy="549.6" r="1.7"/><circle cx="532.5" cy="552.3" r="1.7"/><circle cx="539.7" cy="548.1" r="1.7"/><circle cx="542.9" cy="549.4" r="1.7"/><circle cx="548.3" cy="547.5" r="1.7"/><circle cx="569.7" cy="543.3" r="1.7"/><circle cx="550.4" cy="554.6" r="1.7"/><circle cx="556.4" cy="555.4" r="1.7"/><circle cx="576.4" cy="575.2" r="1.7"/><circle cx="590.7" cy="431.8" r="1.7"/><circle cx="581.3" cy="443.5" r="1.7"/><circle cx="595" cy="442.6" r="1.7"/><circle cx="599.5" cy="444.3" r="1.7"/><circle cx="593.9" cy="449.7" r="1.7"/><circle cx="597.7" cy="448.7" r="1.7"/><circle cx="595.2" cy="455.4" r="1.7"/><circle cx="598.4" cy="454" r="1.7"/><circle cx="602.4" cy="457" r="1.7"/><circle cx="582.2" cy="460.5" r="1.7"/><circle cx="583.5" cy="461.7" r="1.7"/><circle cx="586.2" cy="460.4" r="1.7"/><circle cx="579.9" cy="466.2" r="1.7"/><circle cx="580.8" cy="467.5" r="1.7"/><circle cx="588" cy="465.5" r="1.7"/><circle cx="590.3" cy="464.6" r="1.7"/><circle cx="592.1" cy="464.6" r="1.7"/><circle cx="597.5" cy="461.3" r="1.7"/><circle cx="593.9" cy="467.3" r="1.7"/><circle cx="583.5" cy="470.2" r="1.7"/><circle cx="580.8" cy="472.9" r="1.7"/><circle cx="584.9" cy="472.6" r="1.7"/><circle cx="586.2" cy="475.6" r="1.7"/><circle cx="588.5" cy="475.3" r="1.7"/><circle cx="589.4" cy="476.4" r="1.7"/><circle cx="593.4" cy="471.8" r="1.7"/><circle cx="597.5" cy="469.4" r="1.7"/><circle cx="600.6" cy="467.1" r="1.7"/><circle cx="602" cy="463.7" r="1.7"/><circle cx="604.2" cy="465.2" r="1.7"/><circle cx="602.4" cy="470.4" r="1.7"/><circle cx="606" cy="469" r="1.7"/><circle cx="609.2" cy="469.4" r="1.7"/><circle cx="611" cy="465.5" r="1.7"/><circle cx="612.8" cy="465.2" r="1.7"/><circle cx="615.9" cy="465.7" r="1.7"/><circle cx="613.7" cy="467.8" r="1.7"/><circle cx="610.1" cy="471.9" r="1.7"/><circle cx="606.5" cy="471.6" r="1.7"/><circle cx="601.1" cy="473.7" r="1.7"/><circle cx="603.8" cy="475.6" r="1.7"/><circle cx="606.5" cy="475.2" r="1.7"/><circle cx="609.2" cy="474.3" r="1.7"/><circle cx="612.8" cy="472.4" r="1.7"/><circle cx="614.6" cy="470.8" r="1.7"/><circle cx="615.9" cy="474.6" r="1.7"/><circle cx="611.9" cy="476.6" r="1.7"/><circle cx="619.5" cy="472.7" r="1.7"/><circle cx="621.8" cy="472.8" r="1.7"/><circle cx="623.6" cy="471.7" r="1.7"/><circle cx="626.3" cy="471.2" r="1.7"/><circle cx="624.9" cy="474.6" r="1.7"/><circle cx="628.1" cy="473.7" r="1.7"/><circle cx="630.8" cy="469.6" r="1.7"/><circle cx="628.1" cy="466.9" r="1.7"/><circle cx="634.8" cy="466.3" r="1.7"/><circle cx="631.2" cy="475" r="1.7"/><circle cx="633.9" cy="476.4" r="1.7"/><circle cx="619.7" cy="456.1" r="1.7"/><circle cx="630.3" cy="454.8" r="1.7"/><circle cx="632.6" cy="460.8" r="1.7"/><circle cx="635.7" cy="459" r="1.7"/><circle cx="638.9" cy="469.7" r="1.7"/><circle cx="595.7" cy="478.2" r="1.7"/><circle cx="600.2" cy="478.4" r="1.7"/><circle cx="601.1" cy="481.4" r="1.7"/><circle cx="606.5" cy="478.8" r="1.7"/><circle cx="607.4" cy="478.2" r="1.7"/><circle cx="585.8" cy="480.6" r="1.7"/><circle cx="588" cy="482.9" r="1.7"/><circle cx="591.2" cy="482.1" r="1.7"/><circle cx="583.5" cy="486.8" r="1.7"/><circle cx="619.1" cy="478.6" r="1.7"/><circle cx="621.8" cy="480" r="1.7"/><circle cx="590.7" cy="487.5" r="1.7"/><circle cx="593.9" cy="486.1" r="1.7"/><circle cx="591.2" cy="489.7" r="1.7"/><circle cx="593" cy="491.3" r="1.7"/><circle cx="595.7" cy="489.1" r="1.7"/><circle cx="598.8" cy="489.5" r="1.7"/><circle cx="601.5" cy="489.1" r="1.7"/><circle cx="604.7" cy="489.5" r="1.7"/><circle cx="608.3" cy="489.8" r="1.7"/><circle cx="611" cy="487.6" r="1.7"/><circle cx="611.9" cy="484.8" r="1.7"/><circle cx="615" cy="484.7" r="1.7"/><circle cx="617.3" cy="483.4" r="1.7"/><circle cx="620.9" cy="482.9" r="1.7"/><circle cx="623.6" cy="482.9" r="1.7"/><circle cx="633.5" cy="481.8" r="1.7"/><circle cx="620.4" cy="488.3" r="1.7"/><circle cx="614.1" cy="492" r="1.7"/><circle cx="626.3" cy="489.2" r="1.7"/><circle cx="629.9" cy="488.3" r="1.7"/><circle cx="631.7" cy="486.2" r="1.7"/><circle cx="635.3" cy="485.6" r="1.7"/><circle cx="637.1" cy="487.1" r="1.7"/><circle cx="634.4" cy="490.3" r="1.7"/><circle cx="629" cy="492" r="1.7"/><circle cx="626.3" cy="491.5" r="1.7"/><circle cx="628.1" cy="494.3" r="1.7"/><circle cx="624.5" cy="496.7" r="1.7"/><circle cx="621.8" cy="497.6" r="1.7"/><circle cx="619.1" cy="499.3" r="1.7"/><circle cx="617.3" cy="495.6" r="1.7"/><circle cx="620" cy="494.3" r="1.7"/><circle cx="615" cy="499.9" r="1.7"/><circle cx="610.5" cy="498.8" r="1.7"/><circle cx="607.4" cy="499.8" r="1.7"/><circle cx="606.5" cy="496.4" r="1.7"/><circle cx="610.1" cy="494.4" r="1.7"/><circle cx="612.3" cy="495.9" r="1.7"/><circle cx="596.1" cy="496.2" r="1.7"/><circle cx="596.6" cy="498.3" r="1.7"/><circle cx="600.2" cy="498.6" r="1.7"/><circle cx="588" cy="498.7" r="1.7"/><circle cx="586.7" cy="502.5" r="1.7"/><circle cx="592.5" cy="504.8" r="1.7"/><circle cx="609.2" cy="504" r="1.7"/><circle cx="610.5" cy="506.5" r="1.7"/><circle cx="613.7" cy="505.5" r="1.7"/><circle cx="618.2" cy="503.6" r="1.7"/><circle cx="619.1" cy="507.4" r="1.7"/><circle cx="612.8" cy="507.5" r="1.7"/><circle cx="626.3" cy="503.2" r="1.7"/><circle cx="629.9" cy="500.3" r="1.7"/><circle cx="631.2" cy="504.2" r="1.7"/><circle cx="633.5" cy="496.7" r="1.7"/><circle cx="637.1" cy="493.4" r="1.7"/><circle cx="638.4" cy="503.1" r="1.7"/><circle cx="638.9" cy="504.3" r="1.7"/><circle cx="601.1" cy="512.5" r="1.7"/><circle cx="584.4" cy="519.6" r="1.7"/><circle cx="586.7" cy="517.8" r="1.7"/><circle cx="589.4" cy="522.4" r="1.7"/><circle cx="600.2" cy="520.2" r="1.7"/><circle cx="609.6" cy="516.6" r="1.7"/><circle cx="620.9" cy="513.4" r="1.7"/><circle cx="623.6" cy="515.7" r="1.7"/><circle cx="628.5" cy="510.4" r="1.7"/><circle cx="629.9" cy="517.9" r="1.7"/><circle cx="633.9" cy="514.6" r="1.7"/><circle cx="637.1" cy="511.8" r="1.7"/><circle cx="638.9" cy="515.1" r="1.7"/><circle cx="584.9" cy="525.8" r="1.7"/><circle cx="583.1" cy="528.7" r="1.7"/><circle cx="581.3" cy="531.2" r="1.7"/><circle cx="584.9" cy="530.3" r="1.7"/><circle cx="582.2" cy="539.2" r="1.7"/><circle cx="622.5" cy="547.9" r="1.7"/><circle cx="671.4" cy="471.9" r="1.7"/><circle cx="650.3" cy="476.5" r="1.7"/><circle cx="644.4" cy="481" r="1.7"/><circle cx="644.9" cy="482.3" r="1.7"/><circle cx="642.2" cy="485.5" r="1.7"/><circle cx="640.8" cy="489.3" r="1.7"/><circle cx="641.7" cy="491.3" r="1.7"/><circle cx="644" cy="492.8" r="1.7"/><circle cx="646.7" cy="489.7" r="1.7"/><circle cx="648" cy="490.9" r="1.7"/><circle cx="651.6" cy="488.5" r="1.7"/><circle cx="649.8" cy="492.8" r="1.7"/><circle cx="650.3" cy="495.4" r="1.7"/><circle cx="646.2" cy="498.3" r="1.7"/><circle cx="639.9" cy="501.1" r="1.7"/><circle cx="648.5" cy="498.9" r="1.7"/><circle cx="650.3" cy="500.4" r="1.7"/><circle cx="653" cy="500" r="1.7"/><circle cx="653.9" cy="497.1" r="1.7"/><circle cx="656.1" cy="495" r="1.7"/><circle cx="658.4" cy="494.6" r="1.7"/><circle cx="657.9" cy="485.2" r="1.7"/><circle cx="660.2" cy="486.7" r="1.7"/><circle cx="660.6" cy="488.4" r="1.7"/><circle cx="670.1" cy="488.3" r="1.7"/><circle cx="678.6" cy="491.9" r="1.7"/><circle cx="661.1" cy="496" r="1.7"/><circle cx="663.3" cy="495.2" r="1.7"/><circle cx="665.6" cy="495.7" r="1.7"/><circle cx="668.3" cy="495.8" r="1.7"/><circle cx="662" cy="500.4" r="1.7"/><circle cx="664.2" cy="500.9" r="1.7"/><circle cx="665.6" cy="501.6" r="1.7"/><circle cx="670.5" cy="499.5" r="1.7"/><circle cx="671.4" cy="501.6" r="1.7"/><circle cx="674.6" cy="502.4" r="1.7"/><circle cx="648.5" cy="503.8" r="1.7"/><circle cx="650.3" cy="502.6" r="1.7"/><circle cx="648" cy="505.6" r="1.7"/><circle cx="646.2" cy="508.6" r="1.7"/><circle cx="654.3" cy="505.2" r="1.7"/><circle cx="655.2" cy="507.2" r="1.7"/><circle cx="658.8" cy="505.8" r="1.7"/><circle cx="659.3" cy="508" r="1.7"/><circle cx="661.5" cy="508.5" r="1.7"/><circle cx="664.2" cy="509" r="1.7"/><circle cx="666.5" cy="506.4" r="1.7"/><circle cx="669.2" cy="509.2" r="1.7"/><circle cx="672.3" cy="506.9" r="1.7"/><circle cx="675.5" cy="507.7" r="1.7"/><circle cx="677.3" cy="509.2" r="1.7"/><circle cx="680.3" cy="509.2" r="1.7"/><circle cx="639.9" cy="511" r="1.7"/><circle cx="641.3" cy="518" r="1.7"/><circle cx="646.7" cy="513.5" r="1.7"/><circle cx="649.4" cy="512.6" r="1.7"/><circle cx="653.4" cy="512" r="1.7"/><circle cx="657" cy="511.4" r="1.7"/><circle cx="657.5" cy="514.6" r="1.7"/><circle cx="661.1" cy="513.1" r="1.7"/><circle cx="663.8" cy="511.8" r="1.7"/><circle cx="665.6" cy="514.2" r="1.7"/><circle cx="662" cy="515.7" r="1.7"/><circle cx="659.3" cy="517" r="1.7"/><circle cx="656.6" cy="518.3" r="1.7"/><circle cx="655.7" cy="520.6" r="1.7"/><circle cx="660.2" cy="519.5" r="1.7"/><circle cx="660.6" cy="522.6" r="1.7"/><circle cx="650.3" cy="524.2" r="1.7"/><circle cx="644.4" cy="521.1" r="1.7"/><circle cx="646.2" cy="518.1" r="1.7"/><circle cx="666.5" cy="517.2" r="1.7"/><circle cx="668.7" cy="517.7" r="1.7"/><circle cx="672.8" cy="512.2" r="1.7"/><circle cx="673.7" cy="514.7" r="1.7"/><circle cx="675.5" cy="516.3" r="1.7"/><circle cx="679" cy="514.3" r="1.7"/><circle cx="683.9" cy="515" r="1.7"/><circle cx="686.2" cy="517.7" r="1.7"/><circle cx="671.4" cy="520" r="1.7"/><circle cx="674.6" cy="520" r="1.7"/><circle cx="675.9" cy="522" r="1.7"/><circle cx="677.3" cy="523.6" r="1.7"/><circle cx="682.1" cy="521.5" r="1.7"/><circle cx="650.3" cy="530" r="1.7"/><circle cx="657.5" cy="528" r="1.7"/><circle cx="662.4" cy="528.2" r="1.7"/><circle cx="665.1" cy="528.2" r="1.7"/><circle cx="661.1" cy="530.7" r="1.7"/><circle cx="668.3" cy="529.6" r="1.7"/><circle cx="672.8" cy="526.2" r="1.7"/><circle cx="682.1" cy="527" r="1.7"/><circle cx="683.5" cy="530.4" r="1.7"/><circle cx="681.2" cy="534.3" r="1.7"/><circle cx="674.1" cy="530.5" r="1.7"/><circle cx="674.6" cy="531.1" r="1.7"/><circle cx="666.9" cy="535.2" r="1.7"/><circle cx="668.3" cy="534.6" r="1.7"/><circle cx="655.7" cy="535.6" r="1.7"/><circle cx="647.1" cy="536.7" r="1.7"/><circle cx="659.3" cy="547.6" r="1.7"/><circle cx="679.4" cy="543.1" r="1.7"/><circle cx="683.2" cy="561.2" r="1.7"/><circle cx="691.3" cy="557.1" r="1.7"/><circle cx="481.4" cy="506.1" r="1.7"/><circle cx="569.1" cy="456.1" r="1.7"/><circle cx="660.8" cy="495.2" r="1.7"/><circle cx="675.3" cy="500.8" r="1.7"/><circle cx="533.3" cy="516.5" r="1.7"/><circle cx="659.2" cy="506.6" r="1.7"/><circle cx="516.7" cy="495.5" r="1.7"/><circle cx="637.6" cy="488.6" r="1.7"/><circle cx="625.4" cy="472.8" r="1.7"/><circle cx="650.7" cy="500.9" r="1.7"/><circle cx="671.5" cy="500.7" r="1.7"/><circle cx="493.5" cy="513.7" r="1.7"/><circle cx="485" cy="514.2" r="1.7"/><circle cx="591.4" cy="480.7" r="1.7"/><circle cx="550.2" cy="484.6" r="1.7"/><circle cx="612.8" cy="470.9" r="1.7"/><circle cx="489.5" cy="513.2" r="1.7"/><circle cx="616.6" cy="484.5" r="1.7"/><circle cx="521.7" cy="509.3" r="1.7"/><circle cx="564.4" cy="458.3" r="1.7"/><circle cx="505.7" cy="511.7" r="1.7"/><circle cx="499.4" cy="506" r="1.7"/><circle cx="623" cy="473.2" r="1.7"/><circle cx="610.4" cy="493.6" r="1.7"/><circle cx="618.4" cy="480.6" r="1.7"/><circle cx="647.9" cy="502.4" r="1.7"/><circle cx="554.3" cy="517.4" r="1.7"/><circle cx="619.9" cy="492.5" r="1.7"/><circle cx="585.9" cy="482.4" r="1.7"/><circle cx="627" cy="488" r="1.7"/><circle cx="648.7" cy="514.5" r="1.7"/><circle cx="655.5" cy="519.8" r="1.7"/><circle cx="615.2" cy="476.6" r="1.7"/><circle cx="675.3" cy="523.8" r="1.7"/><circle cx="607.7" cy="476.8" r="1.7"/><circle cx="654" cy="512.7" r="1.7"/><circle cx="618.3" cy="500.9" r="1.7"/><circle cx="674.4" cy="518.8" r="1.7"/><circle cx="563.4" cy="483" r="1.7"/><circle cx="660.3" cy="514.8" r="1.7"/><circle cx="582.5" cy="527.3" r="1.7"/><circle cx="609.8" cy="470.4" r="1.7"/><circle cx="559.3" cy="522.9" r="1.7"/><circle cx="626.4" cy="493.2" r="1.7"/><circle cx="664.6" cy="499.8" r="1.7"/><circle cx="674.8" cy="517.8" r="1.7"/><circle cx="665.9" cy="507.7" r="1.7"/><circle cx="603.5" cy="477.3" r="1.7"/><circle cx="610.9" cy="463.9" r="1.7"/><circle cx="573.2" cy="454.6" r="1.7"/><circle cx="620.2" cy="484.3" r="1.7"/><circle cx="556.8" cy="522.4" r="1.7"/><circle cx="666.3" cy="513.1" r="1.7"/><circle cx="561.7" cy="486.3" r="1.7"/><circle cx="559" cy="481" r="1.7"/><circle cx="659.8" cy="521" r="1.7"/><circle cx="527.4" cy="489.6" r="1.7"/><circle cx="517.3" cy="527.6" r="1.7"/><circle cx="629.8" cy="490.1" r="1.7"/><circle cx="611.8" cy="475.3" r="1.7"/><circle cx="593.5" cy="485.1" r="1.7"/><circle cx="664.9" cy="494.6" r="1.7"/><circle cx="673.3" cy="510.4" r="1.7"/><circle cx="606.9" cy="472.7" r="1.7"/><circle cx="671.8" cy="518.7" r="1.7"/><circle cx="677" cy="522.3" r="1.7"/><circle cx="634.5" cy="491.1" r="1.7"/><circle cx="590.7" cy="486.6" r="1.7"/><circle cx="476.6" cy="493.3" r="1.7"/><circle cx="526.1" cy="489.6" r="1.7"/><circle cx="561.9" cy="478.5" r="1.7"/><circle cx="640.7" cy="491.1" r="1.7"/><circle cx="530.3" cy="510" r="1.7"/><circle cx="560.2" cy="517.9" r="1.7"/><circle cx="521.8" cy="504.9" r="1.7"/><circle cx="668.6" cy="507.5" r="1.7"/><circle cx="538.8" cy="509" r="1.7"/><circle cx="672.7" cy="505.2" r="1.7"/><circle cx="478.5" cy="503" r="1.7"/><circle cx="508.3" cy="511" r="1.7"/><circle cx="488.4" cy="511.9" r="1.7"/><circle cx="587.9" cy="474.3" r="1.7"/><circle cx="673.5" cy="524.9" r="1.7"/><circle cx="500.6" cy="513.1" r="1.7"/><circle cx="647.7" cy="506.8" r="1.7"/><circle cx="668" cy="528.3" r="1.7"/><circle cx="648.1" cy="498.1" r="1.7"/><circle cx="646.1" cy="519" r="1.7"/><circle cx="483.4" cy="509.4" r="1.7"/><circle cx="655.7" cy="496.8" r="1.7"/><circle cx="663.4" cy="510.3" r="1.7"/><circle cx="514.3" cy="532.2" r="1.7"/><circle cx="613.2" cy="469.4" r="1.7"/><circle cx="486.6" cy="509.9" r="1.7"/><circle cx="600.6" cy="472.8" r="1.7"/><circle cx="494.7" cy="515.8" r="1.7"/><circle cx="537.7" cy="521.9" r="1.7"/><circle cx="524.4" cy="485.3" r="1.7"/></g>
<path d="M122 176.3 L348.6 192.2" fill="none" stroke="#f0603a" stroke-width="1.5" stroke-opacity="0.85"/>
<path d="M467.9 179.4 L694.8 179.4" fill="none" stroke="#f0603a" stroke-width="1.5" stroke-opacity="0.85"/>
<path d="M119.2 487.9 L346.8 523.1" fill="none" stroke="#f0603a" stroke-width="1.5" stroke-opacity="0.85"/>
<path d="M463.7 498.4 L691.9 498.4" fill="none" stroke="#f0603a" stroke-width="1.5" stroke-opacity="0.85"/>
</svg>
</body></html>
